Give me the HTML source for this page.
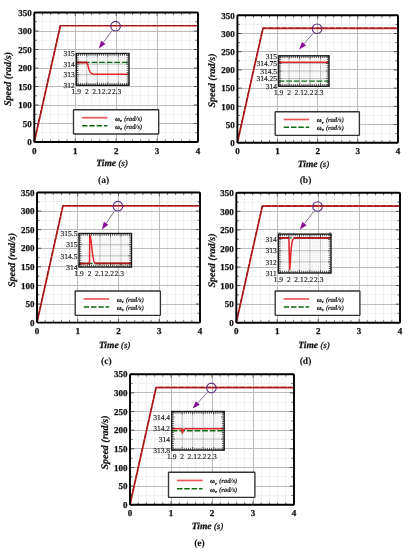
<!DOCTYPE html>
<html><head><meta charset="utf-8"><style>
html,body{margin:0;padding:0;background:#fff;}
body{width:411px;height:550px;overflow:hidden;}
svg{display:block;}
text{font-family:'Liberation Serif','Times New Roman',serif;text-rendering:geometricPrecision;}
</style></head><body>
<svg width="411" height="550" viewBox="0 0 411 550">
<rect width="411" height="550" fill="#fff"/>
<line x1="42.5" y1="12.5" x2="42.5" y2="142" stroke="#f1f1f1" stroke-width="1"/>
<line x1="50.5" y1="12.5" x2="50.5" y2="142" stroke="#f1f1f1" stroke-width="1"/>
<line x1="58.5" y1="12.5" x2="58.5" y2="142" stroke="#f1f1f1" stroke-width="1"/>
<line x1="67.5" y1="12.5" x2="67.5" y2="142" stroke="#f1f1f1" stroke-width="1"/>
<line x1="83.5" y1="12.5" x2="83.5" y2="142" stroke="#f1f1f1" stroke-width="1"/>
<line x1="91.5" y1="12.5" x2="91.5" y2="142" stroke="#f1f1f1" stroke-width="1"/>
<line x1="99.5" y1="12.5" x2="99.5" y2="142" stroke="#f1f1f1" stroke-width="1"/>
<line x1="107.5" y1="12.5" x2="107.5" y2="142" stroke="#f1f1f1" stroke-width="1"/>
<line x1="124.5" y1="12.5" x2="124.5" y2="142" stroke="#f1f1f1" stroke-width="1"/>
<line x1="132.5" y1="12.5" x2="132.5" y2="142" stroke="#f1f1f1" stroke-width="1"/>
<line x1="140.5" y1="12.5" x2="140.5" y2="142" stroke="#f1f1f1" stroke-width="1"/>
<line x1="148.5" y1="12.5" x2="148.5" y2="142" stroke="#f1f1f1" stroke-width="1"/>
<line x1="165.5" y1="12.5" x2="165.5" y2="142" stroke="#f1f1f1" stroke-width="1"/>
<line x1="173.5" y1="12.5" x2="173.5" y2="142" stroke="#f1f1f1" stroke-width="1"/>
<line x1="181.5" y1="12.5" x2="181.5" y2="142" stroke="#f1f1f1" stroke-width="1"/>
<line x1="189.5" y1="12.5" x2="189.5" y2="142" stroke="#f1f1f1" stroke-width="1"/>
<line x1="34.3" y1="132.5" x2="198" y2="132.5" stroke="#f1f1f1" stroke-width="1"/>
<line x1="34.3" y1="114.5" x2="198" y2="114.5" stroke="#f1f1f1" stroke-width="1"/>
<line x1="34.3" y1="95.5" x2="198" y2="95.5" stroke="#f1f1f1" stroke-width="1"/>
<line x1="34.3" y1="77.5" x2="198" y2="77.5" stroke="#f1f1f1" stroke-width="1"/>
<line x1="34.3" y1="58.5" x2="198" y2="58.5" stroke="#f1f1f1" stroke-width="1"/>
<line x1="34.3" y1="40.5" x2="198" y2="40.5" stroke="#f1f1f1" stroke-width="1"/>
<line x1="34.3" y1="21.5" x2="198" y2="21.5" stroke="#f1f1f1" stroke-width="1"/>
<line x1="75.5" y1="12.5" x2="75.5" y2="142" stroke="#bcbcbc" stroke-width="1"/>
<line x1="116.5" y1="12.5" x2="116.5" y2="142" stroke="#bcbcbc" stroke-width="1"/>
<line x1="157.5" y1="12.5" x2="157.5" y2="142" stroke="#bcbcbc" stroke-width="1"/>
<line x1="34.3" y1="123.5" x2="198" y2="123.5" stroke="#bcbcbc" stroke-width="1"/>
<line x1="34.3" y1="105.5" x2="198" y2="105.5" stroke="#bcbcbc" stroke-width="1"/>
<line x1="34.3" y1="86.5" x2="198" y2="86.5" stroke="#bcbcbc" stroke-width="1"/>
<line x1="34.3" y1="68.5" x2="198" y2="68.5" stroke="#bcbcbc" stroke-width="1"/>
<line x1="34.3" y1="49.5" x2="198" y2="49.5" stroke="#bcbcbc" stroke-width="1"/>
<line x1="34.3" y1="31.5" x2="198" y2="31.5" stroke="#bcbcbc" stroke-width="1"/>
<polyline points="34.3,142 60.41,25.76 198,25.76" fill="none" stroke="#cc2426" stroke-width="1.7" stroke-linejoin="round"/>
<polyline points="34.3,142 60.41,25.76 198,25.76" fill="none" stroke="#901616" stroke-width="1.1" stroke-dasharray="5.2 1.6" transform="translate(-0.2,-0.3)" stroke-linejoin="round"/>
<line x1="34.3" y1="142" x2="34.3" y2="138.4" stroke="#444" stroke-width="0.8"/>
<line x1="34.3" y1="12.5" x2="34.3" y2="16.1" stroke="#444" stroke-width="0.8"/>
<line x1="42.48" y1="142" x2="42.48" y2="139.6" stroke="#444" stroke-width="0.8"/>
<line x1="42.48" y1="12.5" x2="42.48" y2="14.9" stroke="#444" stroke-width="0.8"/>
<line x1="50.67" y1="142" x2="50.67" y2="139.6" stroke="#444" stroke-width="0.8"/>
<line x1="50.67" y1="12.5" x2="50.67" y2="14.9" stroke="#444" stroke-width="0.8"/>
<line x1="58.86" y1="142" x2="58.86" y2="139.6" stroke="#444" stroke-width="0.8"/>
<line x1="58.86" y1="12.5" x2="58.86" y2="14.9" stroke="#444" stroke-width="0.8"/>
<line x1="67.04" y1="142" x2="67.04" y2="139.6" stroke="#444" stroke-width="0.8"/>
<line x1="67.04" y1="12.5" x2="67.04" y2="14.9" stroke="#444" stroke-width="0.8"/>
<line x1="75.22" y1="142" x2="75.22" y2="138.4" stroke="#444" stroke-width="0.8"/>
<line x1="75.22" y1="12.5" x2="75.22" y2="16.1" stroke="#444" stroke-width="0.8"/>
<line x1="83.41" y1="142" x2="83.41" y2="139.6" stroke="#444" stroke-width="0.8"/>
<line x1="83.41" y1="12.5" x2="83.41" y2="14.9" stroke="#444" stroke-width="0.8"/>
<line x1="91.59" y1="142" x2="91.59" y2="139.6" stroke="#444" stroke-width="0.8"/>
<line x1="91.59" y1="12.5" x2="91.59" y2="14.9" stroke="#444" stroke-width="0.8"/>
<line x1="99.78" y1="142" x2="99.78" y2="139.6" stroke="#444" stroke-width="0.8"/>
<line x1="99.78" y1="12.5" x2="99.78" y2="14.9" stroke="#444" stroke-width="0.8"/>
<line x1="107.96" y1="142" x2="107.96" y2="139.6" stroke="#444" stroke-width="0.8"/>
<line x1="107.96" y1="12.5" x2="107.96" y2="14.9" stroke="#444" stroke-width="0.8"/>
<line x1="116.15" y1="142" x2="116.15" y2="138.4" stroke="#444" stroke-width="0.8"/>
<line x1="116.15" y1="12.5" x2="116.15" y2="16.1" stroke="#444" stroke-width="0.8"/>
<line x1="124.33" y1="142" x2="124.33" y2="139.6" stroke="#444" stroke-width="0.8"/>
<line x1="124.33" y1="12.5" x2="124.33" y2="14.9" stroke="#444" stroke-width="0.8"/>
<line x1="132.52" y1="142" x2="132.52" y2="139.6" stroke="#444" stroke-width="0.8"/>
<line x1="132.52" y1="12.5" x2="132.52" y2="14.9" stroke="#444" stroke-width="0.8"/>
<line x1="140.7" y1="142" x2="140.7" y2="139.6" stroke="#444" stroke-width="0.8"/>
<line x1="140.7" y1="12.5" x2="140.7" y2="14.9" stroke="#444" stroke-width="0.8"/>
<line x1="148.89" y1="142" x2="148.89" y2="139.6" stroke="#444" stroke-width="0.8"/>
<line x1="148.89" y1="12.5" x2="148.89" y2="14.9" stroke="#444" stroke-width="0.8"/>
<line x1="157.07" y1="142" x2="157.07" y2="138.4" stroke="#444" stroke-width="0.8"/>
<line x1="157.07" y1="12.5" x2="157.07" y2="16.1" stroke="#444" stroke-width="0.8"/>
<line x1="165.26" y1="142" x2="165.26" y2="139.6" stroke="#444" stroke-width="0.8"/>
<line x1="165.26" y1="12.5" x2="165.26" y2="14.9" stroke="#444" stroke-width="0.8"/>
<line x1="173.44" y1="142" x2="173.44" y2="139.6" stroke="#444" stroke-width="0.8"/>
<line x1="173.44" y1="12.5" x2="173.44" y2="14.9" stroke="#444" stroke-width="0.8"/>
<line x1="181.63" y1="142" x2="181.63" y2="139.6" stroke="#444" stroke-width="0.8"/>
<line x1="181.63" y1="12.5" x2="181.63" y2="14.9" stroke="#444" stroke-width="0.8"/>
<line x1="189.81" y1="142" x2="189.81" y2="139.6" stroke="#444" stroke-width="0.8"/>
<line x1="189.81" y1="12.5" x2="189.81" y2="14.9" stroke="#444" stroke-width="0.8"/>
<line x1="198" y1="142" x2="198" y2="138.4" stroke="#444" stroke-width="0.8"/>
<line x1="198" y1="12.5" x2="198" y2="16.1" stroke="#444" stroke-width="0.8"/>
<line x1="34.3" y1="142" x2="38.5" y2="142" stroke="#444" stroke-width="0.9"/>
<line x1="198" y1="142" x2="193.8" y2="142" stroke="#444" stroke-width="0.9"/>
<line x1="34.3" y1="132.75" x2="36.7" y2="132.75" stroke="#444" stroke-width="0.9"/>
<line x1="198" y1="132.75" x2="195.6" y2="132.75" stroke="#444" stroke-width="0.9"/>
<line x1="34.3" y1="123.5" x2="38.5" y2="123.5" stroke="#444" stroke-width="0.9"/>
<line x1="198" y1="123.5" x2="193.8" y2="123.5" stroke="#444" stroke-width="0.9"/>
<line x1="34.3" y1="114.25" x2="36.7" y2="114.25" stroke="#444" stroke-width="0.9"/>
<line x1="198" y1="114.25" x2="195.6" y2="114.25" stroke="#444" stroke-width="0.9"/>
<line x1="34.3" y1="105" x2="38.5" y2="105" stroke="#444" stroke-width="0.9"/>
<line x1="198" y1="105" x2="193.8" y2="105" stroke="#444" stroke-width="0.9"/>
<line x1="34.3" y1="95.75" x2="36.7" y2="95.75" stroke="#444" stroke-width="0.9"/>
<line x1="198" y1="95.75" x2="195.6" y2="95.75" stroke="#444" stroke-width="0.9"/>
<line x1="34.3" y1="86.5" x2="38.5" y2="86.5" stroke="#444" stroke-width="0.9"/>
<line x1="198" y1="86.5" x2="193.8" y2="86.5" stroke="#444" stroke-width="0.9"/>
<line x1="34.3" y1="77.25" x2="36.7" y2="77.25" stroke="#444" stroke-width="0.9"/>
<line x1="198" y1="77.25" x2="195.6" y2="77.25" stroke="#444" stroke-width="0.9"/>
<line x1="34.3" y1="68" x2="38.5" y2="68" stroke="#444" stroke-width="0.9"/>
<line x1="198" y1="68" x2="193.8" y2="68" stroke="#444" stroke-width="0.9"/>
<line x1="34.3" y1="58.75" x2="36.7" y2="58.75" stroke="#444" stroke-width="0.9"/>
<line x1="198" y1="58.75" x2="195.6" y2="58.75" stroke="#444" stroke-width="0.9"/>
<line x1="34.3" y1="49.5" x2="38.5" y2="49.5" stroke="#444" stroke-width="0.9"/>
<line x1="198" y1="49.5" x2="193.8" y2="49.5" stroke="#444" stroke-width="0.9"/>
<line x1="34.3" y1="40.25" x2="36.7" y2="40.25" stroke="#444" stroke-width="0.9"/>
<line x1="198" y1="40.25" x2="195.6" y2="40.25" stroke="#444" stroke-width="0.9"/>
<line x1="34.3" y1="31" x2="38.5" y2="31" stroke="#444" stroke-width="0.9"/>
<line x1="198" y1="31" x2="193.8" y2="31" stroke="#444" stroke-width="0.9"/>
<line x1="34.3" y1="21.75" x2="36.7" y2="21.75" stroke="#444" stroke-width="0.9"/>
<line x1="198" y1="21.75" x2="195.6" y2="21.75" stroke="#444" stroke-width="0.9"/>
<line x1="34.3" y1="12.5" x2="38.5" y2="12.5" stroke="#444" stroke-width="0.9"/>
<line x1="198" y1="12.5" x2="193.8" y2="12.5" stroke="#444" stroke-width="0.9"/>
<rect x="34.3" y="12.5" width="163.7" height="129.5" fill="none" stroke="#000" stroke-width="1.9" rx="0.8"/>
<text x="31.7" y="145.2" font-size="9" text-anchor="end" font-weight="bold" font-style="normal" fill="#111" stroke="#111" stroke-width="0.25">0</text>
<text x="31.7" y="126.7" font-size="9" text-anchor="end" font-weight="bold" font-style="normal" fill="#111" stroke="#111" stroke-width="0.25">50</text>
<text x="31.7" y="108.2" font-size="9" text-anchor="end" font-weight="bold" font-style="normal" fill="#111" stroke="#111" stroke-width="0.25">100</text>
<text x="31.7" y="89.7" font-size="9" text-anchor="end" font-weight="bold" font-style="normal" fill="#111" stroke="#111" stroke-width="0.25">150</text>
<text x="31.7" y="71.2" font-size="9" text-anchor="end" font-weight="bold" font-style="normal" fill="#111" stroke="#111" stroke-width="0.25">200</text>
<text x="31.7" y="52.7" font-size="9" text-anchor="end" font-weight="bold" font-style="normal" fill="#111" stroke="#111" stroke-width="0.25">250</text>
<text x="31.7" y="34.2" font-size="9" text-anchor="end" font-weight="bold" font-style="normal" fill="#111" stroke="#111" stroke-width="0.25">300</text>
<text x="31.7" y="15.7" font-size="9" text-anchor="end" font-weight="bold" font-style="normal" fill="#111" stroke="#111" stroke-width="0.25">350</text>
<text x="34.3" y="153.5" font-size="9" text-anchor="middle" font-weight="bold" font-style="normal" fill="#111" stroke="#111" stroke-width="0.25">0</text>
<text x="75.22" y="153.5" font-size="9" text-anchor="middle" font-weight="bold" font-style="normal" fill="#111" stroke="#111" stroke-width="0.25">1</text>
<text x="116.15" y="153.5" font-size="9" text-anchor="middle" font-weight="bold" font-style="normal" fill="#111" stroke="#111" stroke-width="0.25">2</text>
<text x="157.07" y="153.5" font-size="9" text-anchor="middle" font-weight="bold" font-style="normal" fill="#111" stroke="#111" stroke-width="0.25">3</text>
<text x="198" y="153.5" font-size="9" text-anchor="middle" font-weight="bold" font-style="normal" fill="#111" stroke="#111" stroke-width="0.25">4</text>
<text x="112" y="166" font-size="9.5" text-anchor="middle" font-weight="bold" font-style="italic" fill="#111" stroke="#111" stroke-width="0.25">Time <tspan font-size="8.8" font-weight="normal" stroke="#111" stroke-width="0.3">(s)</tspan></text>
<text transform="translate(11.4,79) rotate(-90)" font-size="10" text-anchor="middle" font-weight="bold" font-style="italic" fill="#111" stroke="#111" stroke-width="0.2">Speed <tspan>(rad/s)</tspan></text>
<text x="103.6" y="182.7" font-size="9.6" text-anchor="middle" font-weight="bold" font-style="normal" fill="#111" stroke="#111" stroke-width="0.1">(a)</text>
<circle cx="115.55" cy="26.16" r="4.8" fill="none" stroke="#5b2d7d" stroke-width="1.1"/>
<line x1="111.82" y1="31.11" x2="103.31" y2="42.41" stroke="#6a4a7a" stroke-width="0.8"/>
<polygon points="98.8,48.4 101.16,40.78 105.47,44.03" fill="#8a0c98"/>
<rect x="76.3" y="53.5" width="52.7" height="31.8" fill="#fff"/>
<line x1="78.4" y1="53.5" x2="78.4" y2="85.3" stroke="#d8d8d8" stroke-width="0.5" stroke-dasharray="0.8 0.8"/>
<line x1="80.5" y1="53.5" x2="80.5" y2="85.3" stroke="#d8d8d8" stroke-width="0.5" stroke-dasharray="0.8 0.8"/>
<line x1="82.6" y1="53.5" x2="82.6" y2="85.3" stroke="#d8d8d8" stroke-width="0.5" stroke-dasharray="0.8 0.8"/>
<line x1="84.7" y1="53.5" x2="84.7" y2="85.3" stroke="#d8d8d8" stroke-width="0.5" stroke-dasharray="0.8 0.8"/>
<line x1="88.9" y1="53.5" x2="88.9" y2="85.3" stroke="#d8d8d8" stroke-width="0.5" stroke-dasharray="0.8 0.8"/>
<line x1="91" y1="53.5" x2="91" y2="85.3" stroke="#d8d8d8" stroke-width="0.5" stroke-dasharray="0.8 0.8"/>
<line x1="93.1" y1="53.5" x2="93.1" y2="85.3" stroke="#d8d8d8" stroke-width="0.5" stroke-dasharray="0.8 0.8"/>
<line x1="95.2" y1="53.5" x2="95.2" y2="85.3" stroke="#d8d8d8" stroke-width="0.5" stroke-dasharray="0.8 0.8"/>
<line x1="99.4" y1="53.5" x2="99.4" y2="85.3" stroke="#d8d8d8" stroke-width="0.5" stroke-dasharray="0.8 0.8"/>
<line x1="101.5" y1="53.5" x2="101.5" y2="85.3" stroke="#d8d8d8" stroke-width="0.5" stroke-dasharray="0.8 0.8"/>
<line x1="103.6" y1="53.5" x2="103.6" y2="85.3" stroke="#d8d8d8" stroke-width="0.5" stroke-dasharray="0.8 0.8"/>
<line x1="105.7" y1="53.5" x2="105.7" y2="85.3" stroke="#d8d8d8" stroke-width="0.5" stroke-dasharray="0.8 0.8"/>
<line x1="109.9" y1="53.5" x2="109.9" y2="85.3" stroke="#d8d8d8" stroke-width="0.5" stroke-dasharray="0.8 0.8"/>
<line x1="112" y1="53.5" x2="112" y2="85.3" stroke="#d8d8d8" stroke-width="0.5" stroke-dasharray="0.8 0.8"/>
<line x1="114.1" y1="53.5" x2="114.1" y2="85.3" stroke="#d8d8d8" stroke-width="0.5" stroke-dasharray="0.8 0.8"/>
<line x1="116.2" y1="53.5" x2="116.2" y2="85.3" stroke="#d8d8d8" stroke-width="0.5" stroke-dasharray="0.8 0.8"/>
<line x1="120.4" y1="53.5" x2="120.4" y2="85.3" stroke="#d8d8d8" stroke-width="0.5" stroke-dasharray="0.8 0.8"/>
<line x1="122.5" y1="53.5" x2="122.5" y2="85.3" stroke="#d8d8d8" stroke-width="0.5" stroke-dasharray="0.8 0.8"/>
<line x1="124.6" y1="53.5" x2="124.6" y2="85.3" stroke="#d8d8d8" stroke-width="0.5" stroke-dasharray="0.8 0.8"/>
<line x1="126.7" y1="53.5" x2="126.7" y2="85.3" stroke="#d8d8d8" stroke-width="0.5" stroke-dasharray="0.8 0.8"/>
<line x1="76.3" y1="83.18" x2="129" y2="83.18" stroke="#d8d8d8" stroke-width="0.5" stroke-dasharray="0.8 0.8"/>
<line x1="76.3" y1="81.06" x2="129" y2="81.06" stroke="#d8d8d8" stroke-width="0.5" stroke-dasharray="0.8 0.8"/>
<line x1="76.3" y1="78.94" x2="129" y2="78.94" stroke="#d8d8d8" stroke-width="0.5" stroke-dasharray="0.8 0.8"/>
<line x1="76.3" y1="76.82" x2="129" y2="76.82" stroke="#d8d8d8" stroke-width="0.5" stroke-dasharray="0.8 0.8"/>
<line x1="76.3" y1="74.7" x2="129" y2="74.7" stroke="#d8d8d8" stroke-width="0.5" stroke-dasharray="0.8 0.8"/>
<line x1="76.3" y1="72.58" x2="129" y2="72.58" stroke="#d8d8d8" stroke-width="0.5" stroke-dasharray="0.8 0.8"/>
<line x1="76.3" y1="70.46" x2="129" y2="70.46" stroke="#d8d8d8" stroke-width="0.5" stroke-dasharray="0.8 0.8"/>
<line x1="76.3" y1="68.34" x2="129" y2="68.34" stroke="#d8d8d8" stroke-width="0.5" stroke-dasharray="0.8 0.8"/>
<line x1="76.3" y1="66.22" x2="129" y2="66.22" stroke="#d8d8d8" stroke-width="0.5" stroke-dasharray="0.8 0.8"/>
<line x1="76.3" y1="64.1" x2="129" y2="64.1" stroke="#d8d8d8" stroke-width="0.5" stroke-dasharray="0.8 0.8"/>
<line x1="76.3" y1="61.98" x2="129" y2="61.98" stroke="#d8d8d8" stroke-width="0.5" stroke-dasharray="0.8 0.8"/>
<line x1="76.3" y1="59.86" x2="129" y2="59.86" stroke="#d8d8d8" stroke-width="0.5" stroke-dasharray="0.8 0.8"/>
<line x1="76.3" y1="57.74" x2="129" y2="57.74" stroke="#d8d8d8" stroke-width="0.5" stroke-dasharray="0.8 0.8"/>
<line x1="76.3" y1="55.62" x2="129" y2="55.62" stroke="#d8d8d8" stroke-width="0.5" stroke-dasharray="0.8 0.8"/>
<line x1="86.8" y1="53.5" x2="86.8" y2="85.3" stroke="#9a9a9a" stroke-width="0.6"/>
<line x1="97.3" y1="53.5" x2="97.3" y2="85.3" stroke="#9a9a9a" stroke-width="0.6"/>
<line x1="107.8" y1="53.5" x2="107.8" y2="85.3" stroke="#9a9a9a" stroke-width="0.6"/>
<line x1="118.3" y1="53.5" x2="118.3" y2="85.3" stroke="#9a9a9a" stroke-width="0.6"/>
<line x1="76.3" y1="74.7" x2="129" y2="74.7" stroke="#9a9a9a" stroke-width="0.6"/>
<line x1="76.3" y1="64.1" x2="129" y2="64.1" stroke="#9a9a9a" stroke-width="0.6"/>
<clipPath id="c167"><rect x="76.3" y="53.5" width="52.7" height="31.8"/></clipPath><g clip-path="url(#c167)">
<line x1="76.3" y1="62.4" x2="129" y2="62.4" stroke="#0e6c14" stroke-width="1.4" stroke-dasharray="5.8 1.8"/>
<polyline points="71.05,62.4 86.8,62.4 87.01,62.58 87.22,63.03 87.43,63.65 87.64,64.38 87.85,65.17 88.06,65.97 88.27,66.76 88.48,67.52 88.69,68.23 88.9,68.9 89.11,69.52 89.32,70.08 89.53,70.59 89.74,71.05 89.95,71.46 90.16,71.83 90.37,72.15 90.58,72.44 90.79,72.7 91,72.92 91.21,73.11 91.42,73.29 91.63,73.43 91.84,73.56 92.05,73.68 92.26,73.77 92.47,73.86 92.68,73.93 92.89,74 93.1,74.05 93.31,74.1 93.52,74.14 93.73,74.17 93.94,74.2 94.15,74.23 94.36,74.25 94.57,74.27 94.78,74.29 94.99,74.3 95.2,74.31 149.8,74.38" fill="none" stroke="#e3242b" stroke-width="1.5" stroke-linejoin="round"/>
<line x1="71.05" y1="62.4" x2="86.8" y2="62.4" stroke="#a8141e" stroke-width="1.5"/>
</g>
<line x1="76.3" y1="53.5" x2="76.3" y2="56.5" stroke="#111" stroke-width="0.7"/>
<line x1="76.3" y1="85.3" x2="76.3" y2="82.3" stroke="#111" stroke-width="0.7"/>
<line x1="78.4" y1="53.5" x2="78.4" y2="55.7" stroke="#111" stroke-width="0.7"/>
<line x1="78.4" y1="85.3" x2="78.4" y2="83.1" stroke="#111" stroke-width="0.7"/>
<line x1="80.5" y1="53.5" x2="80.5" y2="55.7" stroke="#111" stroke-width="0.7"/>
<line x1="80.5" y1="85.3" x2="80.5" y2="83.1" stroke="#111" stroke-width="0.7"/>
<line x1="82.6" y1="53.5" x2="82.6" y2="55.7" stroke="#111" stroke-width="0.7"/>
<line x1="82.6" y1="85.3" x2="82.6" y2="83.1" stroke="#111" stroke-width="0.7"/>
<line x1="84.7" y1="53.5" x2="84.7" y2="55.7" stroke="#111" stroke-width="0.7"/>
<line x1="84.7" y1="85.3" x2="84.7" y2="83.1" stroke="#111" stroke-width="0.7"/>
<line x1="86.8" y1="53.5" x2="86.8" y2="56.5" stroke="#111" stroke-width="0.7"/>
<line x1="86.8" y1="85.3" x2="86.8" y2="82.3" stroke="#111" stroke-width="0.7"/>
<line x1="88.9" y1="53.5" x2="88.9" y2="55.7" stroke="#111" stroke-width="0.7"/>
<line x1="88.9" y1="85.3" x2="88.9" y2="83.1" stroke="#111" stroke-width="0.7"/>
<line x1="91" y1="53.5" x2="91" y2="55.7" stroke="#111" stroke-width="0.7"/>
<line x1="91" y1="85.3" x2="91" y2="83.1" stroke="#111" stroke-width="0.7"/>
<line x1="93.1" y1="53.5" x2="93.1" y2="55.7" stroke="#111" stroke-width="0.7"/>
<line x1="93.1" y1="85.3" x2="93.1" y2="83.1" stroke="#111" stroke-width="0.7"/>
<line x1="95.2" y1="53.5" x2="95.2" y2="55.7" stroke="#111" stroke-width="0.7"/>
<line x1="95.2" y1="85.3" x2="95.2" y2="83.1" stroke="#111" stroke-width="0.7"/>
<line x1="97.3" y1="53.5" x2="97.3" y2="56.5" stroke="#111" stroke-width="0.7"/>
<line x1="97.3" y1="85.3" x2="97.3" y2="82.3" stroke="#111" stroke-width="0.7"/>
<line x1="99.4" y1="53.5" x2="99.4" y2="55.7" stroke="#111" stroke-width="0.7"/>
<line x1="99.4" y1="85.3" x2="99.4" y2="83.1" stroke="#111" stroke-width="0.7"/>
<line x1="101.5" y1="53.5" x2="101.5" y2="55.7" stroke="#111" stroke-width="0.7"/>
<line x1="101.5" y1="85.3" x2="101.5" y2="83.1" stroke="#111" stroke-width="0.7"/>
<line x1="103.6" y1="53.5" x2="103.6" y2="55.7" stroke="#111" stroke-width="0.7"/>
<line x1="103.6" y1="85.3" x2="103.6" y2="83.1" stroke="#111" stroke-width="0.7"/>
<line x1="105.7" y1="53.5" x2="105.7" y2="55.7" stroke="#111" stroke-width="0.7"/>
<line x1="105.7" y1="85.3" x2="105.7" y2="83.1" stroke="#111" stroke-width="0.7"/>
<line x1="107.8" y1="53.5" x2="107.8" y2="56.5" stroke="#111" stroke-width="0.7"/>
<line x1="107.8" y1="85.3" x2="107.8" y2="82.3" stroke="#111" stroke-width="0.7"/>
<line x1="109.9" y1="53.5" x2="109.9" y2="55.7" stroke="#111" stroke-width="0.7"/>
<line x1="109.9" y1="85.3" x2="109.9" y2="83.1" stroke="#111" stroke-width="0.7"/>
<line x1="112" y1="53.5" x2="112" y2="55.7" stroke="#111" stroke-width="0.7"/>
<line x1="112" y1="85.3" x2="112" y2="83.1" stroke="#111" stroke-width="0.7"/>
<line x1="114.1" y1="53.5" x2="114.1" y2="55.7" stroke="#111" stroke-width="0.7"/>
<line x1="114.1" y1="85.3" x2="114.1" y2="83.1" stroke="#111" stroke-width="0.7"/>
<line x1="116.2" y1="53.5" x2="116.2" y2="55.7" stroke="#111" stroke-width="0.7"/>
<line x1="116.2" y1="85.3" x2="116.2" y2="83.1" stroke="#111" stroke-width="0.7"/>
<line x1="118.3" y1="53.5" x2="118.3" y2="56.5" stroke="#111" stroke-width="0.7"/>
<line x1="118.3" y1="85.3" x2="118.3" y2="82.3" stroke="#111" stroke-width="0.7"/>
<line x1="120.4" y1="53.5" x2="120.4" y2="55.7" stroke="#111" stroke-width="0.7"/>
<line x1="120.4" y1="85.3" x2="120.4" y2="83.1" stroke="#111" stroke-width="0.7"/>
<line x1="122.5" y1="53.5" x2="122.5" y2="55.7" stroke="#111" stroke-width="0.7"/>
<line x1="122.5" y1="85.3" x2="122.5" y2="83.1" stroke="#111" stroke-width="0.7"/>
<line x1="124.6" y1="53.5" x2="124.6" y2="55.7" stroke="#111" stroke-width="0.7"/>
<line x1="124.6" y1="85.3" x2="124.6" y2="83.1" stroke="#111" stroke-width="0.7"/>
<line x1="126.7" y1="53.5" x2="126.7" y2="55.7" stroke="#111" stroke-width="0.7"/>
<line x1="126.7" y1="85.3" x2="126.7" y2="83.1" stroke="#111" stroke-width="0.7"/>
<line x1="128.8" y1="53.5" x2="128.8" y2="56.5" stroke="#111" stroke-width="0.7"/>
<line x1="128.8" y1="85.3" x2="128.8" y2="82.3" stroke="#111" stroke-width="0.7"/>
<line x1="76.3" y1="85.3" x2="79.3" y2="85.3" stroke="#111" stroke-width="0.7"/>
<line x1="129" y1="85.3" x2="126" y2="85.3" stroke="#111" stroke-width="0.7"/>
<line x1="76.3" y1="83.18" x2="78.5" y2="83.18" stroke="#111" stroke-width="0.7"/>
<line x1="129" y1="83.18" x2="126.8" y2="83.18" stroke="#111" stroke-width="0.7"/>
<line x1="76.3" y1="81.06" x2="78.5" y2="81.06" stroke="#111" stroke-width="0.7"/>
<line x1="129" y1="81.06" x2="126.8" y2="81.06" stroke="#111" stroke-width="0.7"/>
<line x1="76.3" y1="78.94" x2="78.5" y2="78.94" stroke="#111" stroke-width="0.7"/>
<line x1="129" y1="78.94" x2="126.8" y2="78.94" stroke="#111" stroke-width="0.7"/>
<line x1="76.3" y1="76.82" x2="78.5" y2="76.82" stroke="#111" stroke-width="0.7"/>
<line x1="129" y1="76.82" x2="126.8" y2="76.82" stroke="#111" stroke-width="0.7"/>
<line x1="76.3" y1="74.7" x2="79.3" y2="74.7" stroke="#111" stroke-width="0.7"/>
<line x1="129" y1="74.7" x2="126" y2="74.7" stroke="#111" stroke-width="0.7"/>
<line x1="76.3" y1="72.58" x2="78.5" y2="72.58" stroke="#111" stroke-width="0.7"/>
<line x1="129" y1="72.58" x2="126.8" y2="72.58" stroke="#111" stroke-width="0.7"/>
<line x1="76.3" y1="70.46" x2="78.5" y2="70.46" stroke="#111" stroke-width="0.7"/>
<line x1="129" y1="70.46" x2="126.8" y2="70.46" stroke="#111" stroke-width="0.7"/>
<line x1="76.3" y1="68.34" x2="78.5" y2="68.34" stroke="#111" stroke-width="0.7"/>
<line x1="129" y1="68.34" x2="126.8" y2="68.34" stroke="#111" stroke-width="0.7"/>
<line x1="76.3" y1="66.22" x2="78.5" y2="66.22" stroke="#111" stroke-width="0.7"/>
<line x1="129" y1="66.22" x2="126.8" y2="66.22" stroke="#111" stroke-width="0.7"/>
<line x1="76.3" y1="64.1" x2="79.3" y2="64.1" stroke="#111" stroke-width="0.7"/>
<line x1="129" y1="64.1" x2="126" y2="64.1" stroke="#111" stroke-width="0.7"/>
<line x1="76.3" y1="61.98" x2="78.5" y2="61.98" stroke="#111" stroke-width="0.7"/>
<line x1="129" y1="61.98" x2="126.8" y2="61.98" stroke="#111" stroke-width="0.7"/>
<line x1="76.3" y1="59.86" x2="78.5" y2="59.86" stroke="#111" stroke-width="0.7"/>
<line x1="129" y1="59.86" x2="126.8" y2="59.86" stroke="#111" stroke-width="0.7"/>
<line x1="76.3" y1="57.74" x2="78.5" y2="57.74" stroke="#111" stroke-width="0.7"/>
<line x1="129" y1="57.74" x2="126.8" y2="57.74" stroke="#111" stroke-width="0.7"/>
<line x1="76.3" y1="55.62" x2="78.5" y2="55.62" stroke="#111" stroke-width="0.7"/>
<line x1="129" y1="55.62" x2="126.8" y2="55.62" stroke="#111" stroke-width="0.7"/>
<line x1="76.3" y1="53.5" x2="79.3" y2="53.5" stroke="#111" stroke-width="0.7"/>
<line x1="129" y1="53.5" x2="126" y2="53.5" stroke="#111" stroke-width="0.7"/>
<rect x="76.3" y="53.5" width="52.7" height="31.8" fill="none" stroke="#1a1a1a" stroke-width="1.4"/>
<text x="74.7" y="88" font-size="7.5" text-anchor="end" font-weight="normal" font-style="normal" fill="#111" stroke="#222" stroke-width="0.15">312</text>
<text x="74.7" y="77.4" font-size="7.5" text-anchor="end" font-weight="normal" font-style="normal" fill="#111" stroke="#222" stroke-width="0.15">313</text>
<text x="74.7" y="66.8" font-size="7.5" text-anchor="end" font-weight="normal" font-style="normal" fill="#111" stroke="#222" stroke-width="0.15">314</text>
<text x="74.7" y="56.2" font-size="7.5" text-anchor="end" font-weight="normal" font-style="normal" fill="#111" stroke="#222" stroke-width="0.15">315</text>
<text x="76.3" y="94" font-size="7.5" text-anchor="middle" font-weight="normal" font-style="normal" fill="#111" stroke="#222" stroke-width="0.15">1.9</text>
<text x="86.8" y="94" font-size="7.5" text-anchor="middle" font-weight="normal" font-style="normal" fill="#111" stroke="#222" stroke-width="0.15">2</text>
<text x="96.9" y="94" font-size="7.5" text-anchor="middle" font-weight="normal" font-style="normal" fill="#111" stroke="#222" stroke-width="0.15">2.1</text>
<text x="106.5" y="94" font-size="7.5" text-anchor="middle" font-weight="normal" font-style="normal" fill="#111" stroke="#222" stroke-width="0.15">2.2</text>
<text x="116.6" y="94" font-size="7.5" text-anchor="middle" font-weight="normal" font-style="normal" fill="#111" stroke="#222" stroke-width="0.15">2.3</text>
<rect x="73.5" y="109.7" width="85.2" height="24.3" fill="#fff" stroke="#333" stroke-width="1.35" rx="0.6"/>
<line x1="82" y1="117.72" x2="107.5" y2="117.72" stroke="#e8585e" stroke-width="1.7"/>
<line x1="82" y1="125.74" x2="107.5" y2="125.74" stroke="#0e6c14" stroke-width="1.5" stroke-dasharray="5.5 1.8"/>
<text x="115" y="120.72" font-size="6.8" font-weight="bold" fill="#111" stroke="#111" stroke-width="0.2">&#969;<tspan font-size="4.4" dy="1.2">r</tspan></text>
<text x="124" y="120.72" font-size="6.7" font-weight="bold" font-style="italic" fill="#222" stroke="#222" stroke-width="0.12">(rad/s)</text>
<text x="115" y="128.74" font-size="6.8" font-weight="bold" fill="#111" stroke="#111" stroke-width="0.2">&#969;<tspan font-size="4.4" dy="1.2">e</tspan></text>
<text x="124" y="128.74" font-size="6.7" font-weight="bold" font-style="italic" fill="#222" stroke="#222" stroke-width="0.12">(rad/s)</text>
<line x1="245.5" y1="15.3" x2="245.5" y2="142.7" stroke="#f1f1f1" stroke-width="1"/>
<line x1="253.5" y1="15.3" x2="253.5" y2="142.7" stroke="#f1f1f1" stroke-width="1"/>
<line x1="261.5" y1="15.3" x2="261.5" y2="142.7" stroke="#f1f1f1" stroke-width="1"/>
<line x1="269.5" y1="15.3" x2="269.5" y2="142.7" stroke="#f1f1f1" stroke-width="1"/>
<line x1="285.5" y1="15.3" x2="285.5" y2="142.7" stroke="#f1f1f1" stroke-width="1"/>
<line x1="293.5" y1="15.3" x2="293.5" y2="142.7" stroke="#f1f1f1" stroke-width="1"/>
<line x1="301.5" y1="15.3" x2="301.5" y2="142.7" stroke="#f1f1f1" stroke-width="1"/>
<line x1="309.5" y1="15.3" x2="309.5" y2="142.7" stroke="#f1f1f1" stroke-width="1"/>
<line x1="325.5" y1="15.3" x2="325.5" y2="142.7" stroke="#f1f1f1" stroke-width="1"/>
<line x1="333.5" y1="15.3" x2="333.5" y2="142.7" stroke="#f1f1f1" stroke-width="1"/>
<line x1="341.5" y1="15.3" x2="341.5" y2="142.7" stroke="#f1f1f1" stroke-width="1"/>
<line x1="349.5" y1="15.3" x2="349.5" y2="142.7" stroke="#f1f1f1" stroke-width="1"/>
<line x1="365.5" y1="15.3" x2="365.5" y2="142.7" stroke="#f1f1f1" stroke-width="1"/>
<line x1="373.5" y1="15.3" x2="373.5" y2="142.7" stroke="#f1f1f1" stroke-width="1"/>
<line x1="381.5" y1="15.3" x2="381.5" y2="142.7" stroke="#f1f1f1" stroke-width="1"/>
<line x1="389.5" y1="15.3" x2="389.5" y2="142.7" stroke="#f1f1f1" stroke-width="1"/>
<line x1="237.4" y1="133.5" x2="398" y2="133.5" stroke="#f1f1f1" stroke-width="1"/>
<line x1="237.4" y1="115.5" x2="398" y2="115.5" stroke="#f1f1f1" stroke-width="1"/>
<line x1="237.4" y1="97.5" x2="398" y2="97.5" stroke="#f1f1f1" stroke-width="1"/>
<line x1="237.4" y1="78.5" x2="398" y2="78.5" stroke="#f1f1f1" stroke-width="1"/>
<line x1="237.4" y1="60.5" x2="398" y2="60.5" stroke="#f1f1f1" stroke-width="1"/>
<line x1="237.4" y1="42.5" x2="398" y2="42.5" stroke="#f1f1f1" stroke-width="1"/>
<line x1="237.4" y1="24.5" x2="398" y2="24.5" stroke="#f1f1f1" stroke-width="1"/>
<line x1="277.5" y1="15.3" x2="277.5" y2="142.7" stroke="#bcbcbc" stroke-width="1"/>
<line x1="317.5" y1="15.3" x2="317.5" y2="142.7" stroke="#bcbcbc" stroke-width="1"/>
<line x1="357.5" y1="15.3" x2="357.5" y2="142.7" stroke="#bcbcbc" stroke-width="1"/>
<line x1="237.4" y1="124.5" x2="398" y2="124.5" stroke="#bcbcbc" stroke-width="1"/>
<line x1="237.4" y1="106.5" x2="398" y2="106.5" stroke="#bcbcbc" stroke-width="1"/>
<line x1="237.4" y1="88.5" x2="398" y2="88.5" stroke="#bcbcbc" stroke-width="1"/>
<line x1="237.4" y1="69.5" x2="398" y2="69.5" stroke="#bcbcbc" stroke-width="1"/>
<line x1="237.4" y1="51.5" x2="398" y2="51.5" stroke="#bcbcbc" stroke-width="1"/>
<line x1="237.4" y1="33.5" x2="398" y2="33.5" stroke="#bcbcbc" stroke-width="1"/>
<polyline points="237.4,142.7 263.02,28.35 398,28.35" fill="none" stroke="#cc2426" stroke-width="1.7" stroke-linejoin="round"/>
<polyline points="237.4,142.7 263.02,28.35 398,28.35" fill="none" stroke="#901616" stroke-width="1.1" stroke-dasharray="5.2 1.6" transform="translate(-0.2,-0.3)" stroke-linejoin="round"/>
<line x1="237.4" y1="142.7" x2="237.4" y2="139.1" stroke="#444" stroke-width="0.8"/>
<line x1="237.4" y1="15.3" x2="237.4" y2="18.9" stroke="#444" stroke-width="0.8"/>
<line x1="245.43" y1="142.7" x2="245.43" y2="140.3" stroke="#444" stroke-width="0.8"/>
<line x1="245.43" y1="15.3" x2="245.43" y2="17.7" stroke="#444" stroke-width="0.8"/>
<line x1="253.46" y1="142.7" x2="253.46" y2="140.3" stroke="#444" stroke-width="0.8"/>
<line x1="253.46" y1="15.3" x2="253.46" y2="17.7" stroke="#444" stroke-width="0.8"/>
<line x1="261.49" y1="142.7" x2="261.49" y2="140.3" stroke="#444" stroke-width="0.8"/>
<line x1="261.49" y1="15.3" x2="261.49" y2="17.7" stroke="#444" stroke-width="0.8"/>
<line x1="269.52" y1="142.7" x2="269.52" y2="140.3" stroke="#444" stroke-width="0.8"/>
<line x1="269.52" y1="15.3" x2="269.52" y2="17.7" stroke="#444" stroke-width="0.8"/>
<line x1="277.55" y1="142.7" x2="277.55" y2="139.1" stroke="#444" stroke-width="0.8"/>
<line x1="277.55" y1="15.3" x2="277.55" y2="18.9" stroke="#444" stroke-width="0.8"/>
<line x1="285.58" y1="142.7" x2="285.58" y2="140.3" stroke="#444" stroke-width="0.8"/>
<line x1="285.58" y1="15.3" x2="285.58" y2="17.7" stroke="#444" stroke-width="0.8"/>
<line x1="293.61" y1="142.7" x2="293.61" y2="140.3" stroke="#444" stroke-width="0.8"/>
<line x1="293.61" y1="15.3" x2="293.61" y2="17.7" stroke="#444" stroke-width="0.8"/>
<line x1="301.64" y1="142.7" x2="301.64" y2="140.3" stroke="#444" stroke-width="0.8"/>
<line x1="301.64" y1="15.3" x2="301.64" y2="17.7" stroke="#444" stroke-width="0.8"/>
<line x1="309.67" y1="142.7" x2="309.67" y2="140.3" stroke="#444" stroke-width="0.8"/>
<line x1="309.67" y1="15.3" x2="309.67" y2="17.7" stroke="#444" stroke-width="0.8"/>
<line x1="317.7" y1="142.7" x2="317.7" y2="139.1" stroke="#444" stroke-width="0.8"/>
<line x1="317.7" y1="15.3" x2="317.7" y2="18.9" stroke="#444" stroke-width="0.8"/>
<line x1="325.73" y1="142.7" x2="325.73" y2="140.3" stroke="#444" stroke-width="0.8"/>
<line x1="325.73" y1="15.3" x2="325.73" y2="17.7" stroke="#444" stroke-width="0.8"/>
<line x1="333.76" y1="142.7" x2="333.76" y2="140.3" stroke="#444" stroke-width="0.8"/>
<line x1="333.76" y1="15.3" x2="333.76" y2="17.7" stroke="#444" stroke-width="0.8"/>
<line x1="341.79" y1="142.7" x2="341.79" y2="140.3" stroke="#444" stroke-width="0.8"/>
<line x1="341.79" y1="15.3" x2="341.79" y2="17.7" stroke="#444" stroke-width="0.8"/>
<line x1="349.82" y1="142.7" x2="349.82" y2="140.3" stroke="#444" stroke-width="0.8"/>
<line x1="349.82" y1="15.3" x2="349.82" y2="17.7" stroke="#444" stroke-width="0.8"/>
<line x1="357.85" y1="142.7" x2="357.85" y2="139.1" stroke="#444" stroke-width="0.8"/>
<line x1="357.85" y1="15.3" x2="357.85" y2="18.9" stroke="#444" stroke-width="0.8"/>
<line x1="365.88" y1="142.7" x2="365.88" y2="140.3" stroke="#444" stroke-width="0.8"/>
<line x1="365.88" y1="15.3" x2="365.88" y2="17.7" stroke="#444" stroke-width="0.8"/>
<line x1="373.91" y1="142.7" x2="373.91" y2="140.3" stroke="#444" stroke-width="0.8"/>
<line x1="373.91" y1="15.3" x2="373.91" y2="17.7" stroke="#444" stroke-width="0.8"/>
<line x1="381.94" y1="142.7" x2="381.94" y2="140.3" stroke="#444" stroke-width="0.8"/>
<line x1="381.94" y1="15.3" x2="381.94" y2="17.7" stroke="#444" stroke-width="0.8"/>
<line x1="389.97" y1="142.7" x2="389.97" y2="140.3" stroke="#444" stroke-width="0.8"/>
<line x1="389.97" y1="15.3" x2="389.97" y2="17.7" stroke="#444" stroke-width="0.8"/>
<line x1="398" y1="142.7" x2="398" y2="139.1" stroke="#444" stroke-width="0.8"/>
<line x1="398" y1="15.3" x2="398" y2="18.9" stroke="#444" stroke-width="0.8"/>
<line x1="237.4" y1="142.7" x2="241.6" y2="142.7" stroke="#444" stroke-width="0.9"/>
<line x1="398" y1="142.7" x2="393.8" y2="142.7" stroke="#444" stroke-width="0.9"/>
<line x1="237.4" y1="133.6" x2="239.8" y2="133.6" stroke="#444" stroke-width="0.9"/>
<line x1="398" y1="133.6" x2="395.6" y2="133.6" stroke="#444" stroke-width="0.9"/>
<line x1="237.4" y1="124.5" x2="241.6" y2="124.5" stroke="#444" stroke-width="0.9"/>
<line x1="398" y1="124.5" x2="393.8" y2="124.5" stroke="#444" stroke-width="0.9"/>
<line x1="237.4" y1="115.4" x2="239.8" y2="115.4" stroke="#444" stroke-width="0.9"/>
<line x1="398" y1="115.4" x2="395.6" y2="115.4" stroke="#444" stroke-width="0.9"/>
<line x1="237.4" y1="106.3" x2="241.6" y2="106.3" stroke="#444" stroke-width="0.9"/>
<line x1="398" y1="106.3" x2="393.8" y2="106.3" stroke="#444" stroke-width="0.9"/>
<line x1="237.4" y1="97.2" x2="239.8" y2="97.2" stroke="#444" stroke-width="0.9"/>
<line x1="398" y1="97.2" x2="395.6" y2="97.2" stroke="#444" stroke-width="0.9"/>
<line x1="237.4" y1="88.1" x2="241.6" y2="88.1" stroke="#444" stroke-width="0.9"/>
<line x1="398" y1="88.1" x2="393.8" y2="88.1" stroke="#444" stroke-width="0.9"/>
<line x1="237.4" y1="79" x2="239.8" y2="79" stroke="#444" stroke-width="0.9"/>
<line x1="398" y1="79" x2="395.6" y2="79" stroke="#444" stroke-width="0.9"/>
<line x1="237.4" y1="69.9" x2="241.6" y2="69.9" stroke="#444" stroke-width="0.9"/>
<line x1="398" y1="69.9" x2="393.8" y2="69.9" stroke="#444" stroke-width="0.9"/>
<line x1="237.4" y1="60.8" x2="239.8" y2="60.8" stroke="#444" stroke-width="0.9"/>
<line x1="398" y1="60.8" x2="395.6" y2="60.8" stroke="#444" stroke-width="0.9"/>
<line x1="237.4" y1="51.7" x2="241.6" y2="51.7" stroke="#444" stroke-width="0.9"/>
<line x1="398" y1="51.7" x2="393.8" y2="51.7" stroke="#444" stroke-width="0.9"/>
<line x1="237.4" y1="42.6" x2="239.8" y2="42.6" stroke="#444" stroke-width="0.9"/>
<line x1="398" y1="42.6" x2="395.6" y2="42.6" stroke="#444" stroke-width="0.9"/>
<line x1="237.4" y1="33.5" x2="241.6" y2="33.5" stroke="#444" stroke-width="0.9"/>
<line x1="398" y1="33.5" x2="393.8" y2="33.5" stroke="#444" stroke-width="0.9"/>
<line x1="237.4" y1="24.4" x2="239.8" y2="24.4" stroke="#444" stroke-width="0.9"/>
<line x1="398" y1="24.4" x2="395.6" y2="24.4" stroke="#444" stroke-width="0.9"/>
<line x1="237.4" y1="15.3" x2="241.6" y2="15.3" stroke="#444" stroke-width="0.9"/>
<line x1="398" y1="15.3" x2="393.8" y2="15.3" stroke="#444" stroke-width="0.9"/>
<rect x="237.4" y="15.3" width="160.6" height="127.4" fill="none" stroke="#000" stroke-width="1.9" rx="0.8"/>
<text x="234.8" y="145.9" font-size="9" text-anchor="end" font-weight="bold" font-style="normal" fill="#111" stroke="#111" stroke-width="0.25">0</text>
<text x="234.8" y="127.7" font-size="9" text-anchor="end" font-weight="bold" font-style="normal" fill="#111" stroke="#111" stroke-width="0.25">50</text>
<text x="234.8" y="109.5" font-size="9" text-anchor="end" font-weight="bold" font-style="normal" fill="#111" stroke="#111" stroke-width="0.25">100</text>
<text x="234.8" y="91.3" font-size="9" text-anchor="end" font-weight="bold" font-style="normal" fill="#111" stroke="#111" stroke-width="0.25">150</text>
<text x="234.8" y="73.1" font-size="9" text-anchor="end" font-weight="bold" font-style="normal" fill="#111" stroke="#111" stroke-width="0.25">200</text>
<text x="234.8" y="54.9" font-size="9" text-anchor="end" font-weight="bold" font-style="normal" fill="#111" stroke="#111" stroke-width="0.25">250</text>
<text x="234.8" y="36.7" font-size="9" text-anchor="end" font-weight="bold" font-style="normal" fill="#111" stroke="#111" stroke-width="0.25">300</text>
<text x="234.8" y="18.5" font-size="9" text-anchor="end" font-weight="bold" font-style="normal" fill="#111" stroke="#111" stroke-width="0.25">350</text>
<text x="237.4" y="154.2" font-size="9" text-anchor="middle" font-weight="bold" font-style="normal" fill="#111" stroke="#111" stroke-width="0.25">0</text>
<text x="277.55" y="154.2" font-size="9" text-anchor="middle" font-weight="bold" font-style="normal" fill="#111" stroke="#111" stroke-width="0.25">1</text>
<text x="317.7" y="154.2" font-size="9" text-anchor="middle" font-weight="bold" font-style="normal" fill="#111" stroke="#111" stroke-width="0.25">2</text>
<text x="357.85" y="154.2" font-size="9" text-anchor="middle" font-weight="bold" font-style="normal" fill="#111" stroke="#111" stroke-width="0.25">3</text>
<text x="398" y="154.2" font-size="9" text-anchor="middle" font-weight="bold" font-style="normal" fill="#111" stroke="#111" stroke-width="0.25">4</text>
<text x="313.5" y="167" font-size="9.5" text-anchor="middle" font-weight="bold" font-style="italic" fill="#111" stroke="#111" stroke-width="0.25">Time <tspan font-size="8.8" font-weight="normal" stroke="#111" stroke-width="0.3">(s)</tspan></text>
<text transform="translate(215.3,80.5) rotate(-90)" font-size="10" text-anchor="middle" font-weight="bold" font-style="italic" fill="#111" stroke="#111" stroke-width="0.2">Speed <tspan>(rad/s)</tspan></text>
<text x="305.5" y="182.7" font-size="9.6" text-anchor="middle" font-weight="bold" font-style="normal" fill="#111" stroke="#111" stroke-width="0.1">(b)</text>
<circle cx="317.1" cy="28.75" r="4.8" fill="none" stroke="#5b2d7d" stroke-width="1.1"/>
<line x1="313.04" y1="33.43" x2="304.01" y2="43.83" stroke="#6a4a7a" stroke-width="0.8"/>
<polygon points="299.1,49.5 301.97,42.07 306.05,45.6" fill="#8a0c98"/>
<rect x="278.6" y="55.8" width="50.4" height="30.5" fill="#fff"/>
<line x1="280.7" y1="55.8" x2="280.7" y2="86.3" stroke="#d8d8d8" stroke-width="0.5" stroke-dasharray="0.8 0.8"/>
<line x1="282.8" y1="55.8" x2="282.8" y2="86.3" stroke="#d8d8d8" stroke-width="0.5" stroke-dasharray="0.8 0.8"/>
<line x1="284.9" y1="55.8" x2="284.9" y2="86.3" stroke="#d8d8d8" stroke-width="0.5" stroke-dasharray="0.8 0.8"/>
<line x1="287" y1="55.8" x2="287" y2="86.3" stroke="#d8d8d8" stroke-width="0.5" stroke-dasharray="0.8 0.8"/>
<line x1="291.2" y1="55.8" x2="291.2" y2="86.3" stroke="#d8d8d8" stroke-width="0.5" stroke-dasharray="0.8 0.8"/>
<line x1="293.3" y1="55.8" x2="293.3" y2="86.3" stroke="#d8d8d8" stroke-width="0.5" stroke-dasharray="0.8 0.8"/>
<line x1="295.4" y1="55.8" x2="295.4" y2="86.3" stroke="#d8d8d8" stroke-width="0.5" stroke-dasharray="0.8 0.8"/>
<line x1="297.5" y1="55.8" x2="297.5" y2="86.3" stroke="#d8d8d8" stroke-width="0.5" stroke-dasharray="0.8 0.8"/>
<line x1="301.7" y1="55.8" x2="301.7" y2="86.3" stroke="#d8d8d8" stroke-width="0.5" stroke-dasharray="0.8 0.8"/>
<line x1="303.8" y1="55.8" x2="303.8" y2="86.3" stroke="#d8d8d8" stroke-width="0.5" stroke-dasharray="0.8 0.8"/>
<line x1="305.9" y1="55.8" x2="305.9" y2="86.3" stroke="#d8d8d8" stroke-width="0.5" stroke-dasharray="0.8 0.8"/>
<line x1="308" y1="55.8" x2="308" y2="86.3" stroke="#d8d8d8" stroke-width="0.5" stroke-dasharray="0.8 0.8"/>
<line x1="312.2" y1="55.8" x2="312.2" y2="86.3" stroke="#d8d8d8" stroke-width="0.5" stroke-dasharray="0.8 0.8"/>
<line x1="314.3" y1="55.8" x2="314.3" y2="86.3" stroke="#d8d8d8" stroke-width="0.5" stroke-dasharray="0.8 0.8"/>
<line x1="316.4" y1="55.8" x2="316.4" y2="86.3" stroke="#d8d8d8" stroke-width="0.5" stroke-dasharray="0.8 0.8"/>
<line x1="318.5" y1="55.8" x2="318.5" y2="86.3" stroke="#d8d8d8" stroke-width="0.5" stroke-dasharray="0.8 0.8"/>
<line x1="322.7" y1="55.8" x2="322.7" y2="86.3" stroke="#d8d8d8" stroke-width="0.5" stroke-dasharray="0.8 0.8"/>
<line x1="324.8" y1="55.8" x2="324.8" y2="86.3" stroke="#d8d8d8" stroke-width="0.5" stroke-dasharray="0.8 0.8"/>
<line x1="326.9" y1="55.8" x2="326.9" y2="86.3" stroke="#d8d8d8" stroke-width="0.5" stroke-dasharray="0.8 0.8"/>
<line x1="278.6" y1="84.39" x2="329" y2="84.39" stroke="#d8d8d8" stroke-width="0.5" stroke-dasharray="0.8 0.8"/>
<line x1="278.6" y1="82.49" x2="329" y2="82.49" stroke="#d8d8d8" stroke-width="0.5" stroke-dasharray="0.8 0.8"/>
<line x1="278.6" y1="80.58" x2="329" y2="80.58" stroke="#d8d8d8" stroke-width="0.5" stroke-dasharray="0.8 0.8"/>
<line x1="278.6" y1="78.67" x2="329" y2="78.67" stroke="#d8d8d8" stroke-width="0.5" stroke-dasharray="0.8 0.8"/>
<line x1="278.6" y1="76.77" x2="329" y2="76.77" stroke="#d8d8d8" stroke-width="0.5" stroke-dasharray="0.8 0.8"/>
<line x1="278.6" y1="74.86" x2="329" y2="74.86" stroke="#d8d8d8" stroke-width="0.5" stroke-dasharray="0.8 0.8"/>
<line x1="278.6" y1="72.96" x2="329" y2="72.96" stroke="#d8d8d8" stroke-width="0.5" stroke-dasharray="0.8 0.8"/>
<line x1="278.6" y1="71.05" x2="329" y2="71.05" stroke="#d8d8d8" stroke-width="0.5" stroke-dasharray="0.8 0.8"/>
<line x1="278.6" y1="69.14" x2="329" y2="69.14" stroke="#d8d8d8" stroke-width="0.5" stroke-dasharray="0.8 0.8"/>
<line x1="278.6" y1="67.24" x2="329" y2="67.24" stroke="#d8d8d8" stroke-width="0.5" stroke-dasharray="0.8 0.8"/>
<line x1="278.6" y1="65.33" x2="329" y2="65.33" stroke="#d8d8d8" stroke-width="0.5" stroke-dasharray="0.8 0.8"/>
<line x1="278.6" y1="63.42" x2="329" y2="63.42" stroke="#d8d8d8" stroke-width="0.5" stroke-dasharray="0.8 0.8"/>
<line x1="278.6" y1="61.52" x2="329" y2="61.52" stroke="#d8d8d8" stroke-width="0.5" stroke-dasharray="0.8 0.8"/>
<line x1="278.6" y1="59.61" x2="329" y2="59.61" stroke="#d8d8d8" stroke-width="0.5" stroke-dasharray="0.8 0.8"/>
<line x1="278.6" y1="57.71" x2="329" y2="57.71" stroke="#d8d8d8" stroke-width="0.5" stroke-dasharray="0.8 0.8"/>
<line x1="289.1" y1="55.8" x2="289.1" y2="86.3" stroke="#9a9a9a" stroke-width="0.6"/>
<line x1="299.6" y1="55.8" x2="299.6" y2="86.3" stroke="#9a9a9a" stroke-width="0.6"/>
<line x1="310.1" y1="55.8" x2="310.1" y2="86.3" stroke="#9a9a9a" stroke-width="0.6"/>
<line x1="320.6" y1="55.8" x2="320.6" y2="86.3" stroke="#9a9a9a" stroke-width="0.6"/>
<line x1="278.6" y1="78.67" x2="329" y2="78.67" stroke="#9a9a9a" stroke-width="0.6"/>
<line x1="278.6" y1="71.05" x2="329" y2="71.05" stroke="#9a9a9a" stroke-width="0.6"/>
<line x1="278.6" y1="63.42" x2="329" y2="63.42" stroke="#9a9a9a" stroke-width="0.6"/>
<clipPath id="c441"><rect x="278.6" y="55.8" width="50.4" height="30.5"/></clipPath><g clip-path="url(#c441)">
<line x1="278.6" y1="81.11" x2="329" y2="81.11" stroke="#0e6c14" stroke-width="1.4" stroke-dasharray="5.8 1.8"/>
<polyline points="273.35,62.2 352.1,62.2" fill="none" stroke="#e3242b" stroke-width="1.5" stroke-linejoin="round"/>
</g>
<line x1="278.6" y1="55.8" x2="278.6" y2="58.8" stroke="#111" stroke-width="0.7"/>
<line x1="278.6" y1="86.3" x2="278.6" y2="83.3" stroke="#111" stroke-width="0.7"/>
<line x1="280.7" y1="55.8" x2="280.7" y2="58" stroke="#111" stroke-width="0.7"/>
<line x1="280.7" y1="86.3" x2="280.7" y2="84.1" stroke="#111" stroke-width="0.7"/>
<line x1="282.8" y1="55.8" x2="282.8" y2="58" stroke="#111" stroke-width="0.7"/>
<line x1="282.8" y1="86.3" x2="282.8" y2="84.1" stroke="#111" stroke-width="0.7"/>
<line x1="284.9" y1="55.8" x2="284.9" y2="58" stroke="#111" stroke-width="0.7"/>
<line x1="284.9" y1="86.3" x2="284.9" y2="84.1" stroke="#111" stroke-width="0.7"/>
<line x1="287" y1="55.8" x2="287" y2="58" stroke="#111" stroke-width="0.7"/>
<line x1="287" y1="86.3" x2="287" y2="84.1" stroke="#111" stroke-width="0.7"/>
<line x1="289.1" y1="55.8" x2="289.1" y2="58.8" stroke="#111" stroke-width="0.7"/>
<line x1="289.1" y1="86.3" x2="289.1" y2="83.3" stroke="#111" stroke-width="0.7"/>
<line x1="291.2" y1="55.8" x2="291.2" y2="58" stroke="#111" stroke-width="0.7"/>
<line x1="291.2" y1="86.3" x2="291.2" y2="84.1" stroke="#111" stroke-width="0.7"/>
<line x1="293.3" y1="55.8" x2="293.3" y2="58" stroke="#111" stroke-width="0.7"/>
<line x1="293.3" y1="86.3" x2="293.3" y2="84.1" stroke="#111" stroke-width="0.7"/>
<line x1="295.4" y1="55.8" x2="295.4" y2="58" stroke="#111" stroke-width="0.7"/>
<line x1="295.4" y1="86.3" x2="295.4" y2="84.1" stroke="#111" stroke-width="0.7"/>
<line x1="297.5" y1="55.8" x2="297.5" y2="58" stroke="#111" stroke-width="0.7"/>
<line x1="297.5" y1="86.3" x2="297.5" y2="84.1" stroke="#111" stroke-width="0.7"/>
<line x1="299.6" y1="55.8" x2="299.6" y2="58.8" stroke="#111" stroke-width="0.7"/>
<line x1="299.6" y1="86.3" x2="299.6" y2="83.3" stroke="#111" stroke-width="0.7"/>
<line x1="301.7" y1="55.8" x2="301.7" y2="58" stroke="#111" stroke-width="0.7"/>
<line x1="301.7" y1="86.3" x2="301.7" y2="84.1" stroke="#111" stroke-width="0.7"/>
<line x1="303.8" y1="55.8" x2="303.8" y2="58" stroke="#111" stroke-width="0.7"/>
<line x1="303.8" y1="86.3" x2="303.8" y2="84.1" stroke="#111" stroke-width="0.7"/>
<line x1="305.9" y1="55.8" x2="305.9" y2="58" stroke="#111" stroke-width="0.7"/>
<line x1="305.9" y1="86.3" x2="305.9" y2="84.1" stroke="#111" stroke-width="0.7"/>
<line x1="308" y1="55.8" x2="308" y2="58" stroke="#111" stroke-width="0.7"/>
<line x1="308" y1="86.3" x2="308" y2="84.1" stroke="#111" stroke-width="0.7"/>
<line x1="310.1" y1="55.8" x2="310.1" y2="58.8" stroke="#111" stroke-width="0.7"/>
<line x1="310.1" y1="86.3" x2="310.1" y2="83.3" stroke="#111" stroke-width="0.7"/>
<line x1="312.2" y1="55.8" x2="312.2" y2="58" stroke="#111" stroke-width="0.7"/>
<line x1="312.2" y1="86.3" x2="312.2" y2="84.1" stroke="#111" stroke-width="0.7"/>
<line x1="314.3" y1="55.8" x2="314.3" y2="58" stroke="#111" stroke-width="0.7"/>
<line x1="314.3" y1="86.3" x2="314.3" y2="84.1" stroke="#111" stroke-width="0.7"/>
<line x1="316.4" y1="55.8" x2="316.4" y2="58" stroke="#111" stroke-width="0.7"/>
<line x1="316.4" y1="86.3" x2="316.4" y2="84.1" stroke="#111" stroke-width="0.7"/>
<line x1="318.5" y1="55.8" x2="318.5" y2="58" stroke="#111" stroke-width="0.7"/>
<line x1="318.5" y1="86.3" x2="318.5" y2="84.1" stroke="#111" stroke-width="0.7"/>
<line x1="320.6" y1="55.8" x2="320.6" y2="58.8" stroke="#111" stroke-width="0.7"/>
<line x1="320.6" y1="86.3" x2="320.6" y2="83.3" stroke="#111" stroke-width="0.7"/>
<line x1="322.7" y1="55.8" x2="322.7" y2="58" stroke="#111" stroke-width="0.7"/>
<line x1="322.7" y1="86.3" x2="322.7" y2="84.1" stroke="#111" stroke-width="0.7"/>
<line x1="324.8" y1="55.8" x2="324.8" y2="58" stroke="#111" stroke-width="0.7"/>
<line x1="324.8" y1="86.3" x2="324.8" y2="84.1" stroke="#111" stroke-width="0.7"/>
<line x1="326.9" y1="55.8" x2="326.9" y2="58" stroke="#111" stroke-width="0.7"/>
<line x1="326.9" y1="86.3" x2="326.9" y2="84.1" stroke="#111" stroke-width="0.7"/>
<line x1="329" y1="55.8" x2="329" y2="58" stroke="#111" stroke-width="0.7"/>
<line x1="329" y1="86.3" x2="329" y2="84.1" stroke="#111" stroke-width="0.7"/>
<line x1="278.6" y1="86.3" x2="281.6" y2="86.3" stroke="#111" stroke-width="0.7"/>
<line x1="329" y1="86.3" x2="326" y2="86.3" stroke="#111" stroke-width="0.7"/>
<line x1="278.6" y1="84.39" x2="280.8" y2="84.39" stroke="#111" stroke-width="0.7"/>
<line x1="329" y1="84.39" x2="326.8" y2="84.39" stroke="#111" stroke-width="0.7"/>
<line x1="278.6" y1="82.49" x2="280.8" y2="82.49" stroke="#111" stroke-width="0.7"/>
<line x1="329" y1="82.49" x2="326.8" y2="82.49" stroke="#111" stroke-width="0.7"/>
<line x1="278.6" y1="80.58" x2="280.8" y2="80.58" stroke="#111" stroke-width="0.7"/>
<line x1="329" y1="80.58" x2="326.8" y2="80.58" stroke="#111" stroke-width="0.7"/>
<line x1="278.6" y1="78.67" x2="281.6" y2="78.67" stroke="#111" stroke-width="0.7"/>
<line x1="329" y1="78.67" x2="326" y2="78.67" stroke="#111" stroke-width="0.7"/>
<line x1="278.6" y1="76.77" x2="280.8" y2="76.77" stroke="#111" stroke-width="0.7"/>
<line x1="329" y1="76.77" x2="326.8" y2="76.77" stroke="#111" stroke-width="0.7"/>
<line x1="278.6" y1="74.86" x2="280.8" y2="74.86" stroke="#111" stroke-width="0.7"/>
<line x1="329" y1="74.86" x2="326.8" y2="74.86" stroke="#111" stroke-width="0.7"/>
<line x1="278.6" y1="72.96" x2="280.8" y2="72.96" stroke="#111" stroke-width="0.7"/>
<line x1="329" y1="72.96" x2="326.8" y2="72.96" stroke="#111" stroke-width="0.7"/>
<line x1="278.6" y1="71.05" x2="281.6" y2="71.05" stroke="#111" stroke-width="0.7"/>
<line x1="329" y1="71.05" x2="326" y2="71.05" stroke="#111" stroke-width="0.7"/>
<line x1="278.6" y1="69.14" x2="280.8" y2="69.14" stroke="#111" stroke-width="0.7"/>
<line x1="329" y1="69.14" x2="326.8" y2="69.14" stroke="#111" stroke-width="0.7"/>
<line x1="278.6" y1="67.24" x2="280.8" y2="67.24" stroke="#111" stroke-width="0.7"/>
<line x1="329" y1="67.24" x2="326.8" y2="67.24" stroke="#111" stroke-width="0.7"/>
<line x1="278.6" y1="65.33" x2="280.8" y2="65.33" stroke="#111" stroke-width="0.7"/>
<line x1="329" y1="65.33" x2="326.8" y2="65.33" stroke="#111" stroke-width="0.7"/>
<line x1="278.6" y1="63.42" x2="281.6" y2="63.42" stroke="#111" stroke-width="0.7"/>
<line x1="329" y1="63.42" x2="326" y2="63.42" stroke="#111" stroke-width="0.7"/>
<line x1="278.6" y1="61.52" x2="280.8" y2="61.52" stroke="#111" stroke-width="0.7"/>
<line x1="329" y1="61.52" x2="326.8" y2="61.52" stroke="#111" stroke-width="0.7"/>
<line x1="278.6" y1="59.61" x2="280.8" y2="59.61" stroke="#111" stroke-width="0.7"/>
<line x1="329" y1="59.61" x2="326.8" y2="59.61" stroke="#111" stroke-width="0.7"/>
<line x1="278.6" y1="57.71" x2="280.8" y2="57.71" stroke="#111" stroke-width="0.7"/>
<line x1="329" y1="57.71" x2="326.8" y2="57.71" stroke="#111" stroke-width="0.7"/>
<line x1="278.6" y1="55.8" x2="281.6" y2="55.8" stroke="#111" stroke-width="0.7"/>
<line x1="329" y1="55.8" x2="326" y2="55.8" stroke="#111" stroke-width="0.7"/>
<rect x="278.6" y="55.8" width="50.4" height="30.5" fill="none" stroke="#1a1a1a" stroke-width="1.4"/>
<text x="277" y="89" font-size="7.5" text-anchor="end" font-weight="normal" font-style="normal" fill="#111" stroke="#222" stroke-width="0.15">314</text>
<text x="277" y="81.38" font-size="7.5" text-anchor="end" font-weight="normal" font-style="normal" fill="#111" stroke="#222" stroke-width="0.15">314.25</text>
<text x="277" y="73.75" font-size="7.5" text-anchor="end" font-weight="normal" font-style="normal" fill="#111" stroke="#222" stroke-width="0.15">314.5</text>
<text x="277" y="66.12" font-size="7.5" text-anchor="end" font-weight="normal" font-style="normal" fill="#111" stroke="#222" stroke-width="0.15">314.75</text>
<text x="277" y="58.5" font-size="7.5" text-anchor="end" font-weight="normal" font-style="normal" fill="#111" stroke="#222" stroke-width="0.15">315</text>
<text x="278.6" y="95" font-size="7.5" text-anchor="middle" font-weight="normal" font-style="normal" fill="#111" stroke="#222" stroke-width="0.15">1.9</text>
<text x="289.1" y="95" font-size="7.5" text-anchor="middle" font-weight="normal" font-style="normal" fill="#111" stroke="#222" stroke-width="0.15">2</text>
<text x="299.2" y="95" font-size="7.5" text-anchor="middle" font-weight="normal" font-style="normal" fill="#111" stroke="#222" stroke-width="0.15">2.1</text>
<text x="308.8" y="95" font-size="7.5" text-anchor="middle" font-weight="normal" font-style="normal" fill="#111" stroke="#222" stroke-width="0.15">2.2</text>
<text x="318.9" y="95" font-size="7.5" text-anchor="middle" font-weight="normal" font-style="normal" fill="#111" stroke="#222" stroke-width="0.15">2.3</text>
<rect x="275.2" y="111.7" width="84.2" height="23.6" fill="#fff" stroke="#333" stroke-width="1.35" rx="0.6"/>
<line x1="283.7" y1="119.49" x2="309.2" y2="119.49" stroke="#e8585e" stroke-width="1.7"/>
<line x1="283.7" y1="127.28" x2="309.2" y2="127.28" stroke="#0e6c14" stroke-width="1.5" stroke-dasharray="5.5 1.8"/>
<text x="316.7" y="122.49" font-size="6.8" font-weight="bold" fill="#111" stroke="#111" stroke-width="0.2">&#969;<tspan font-size="4.4" dy="1.2">r</tspan></text>
<text x="325.7" y="122.49" font-size="6.7" font-weight="bold" font-style="italic" fill="#222" stroke="#222" stroke-width="0.12">(rad/s)</text>
<text x="316.7" y="130.28" font-size="6.8" font-weight="bold" fill="#111" stroke="#111" stroke-width="0.2">&#969;<tspan font-size="4.4" dy="1.2">e</tspan></text>
<text x="325.7" y="130.28" font-size="6.7" font-weight="bold" font-style="italic" fill="#222" stroke="#222" stroke-width="0.12">(rad/s)</text>
<line x1="45.5" y1="192.5" x2="45.5" y2="322.6" stroke="#f1f1f1" stroke-width="1"/>
<line x1="53.5" y1="192.5" x2="53.5" y2="322.6" stroke="#f1f1f1" stroke-width="1"/>
<line x1="61.5" y1="192.5" x2="61.5" y2="322.6" stroke="#f1f1f1" stroke-width="1"/>
<line x1="69.5" y1="192.5" x2="69.5" y2="322.6" stroke="#f1f1f1" stroke-width="1"/>
<line x1="85.5" y1="192.5" x2="85.5" y2="322.6" stroke="#f1f1f1" stroke-width="1"/>
<line x1="94.5" y1="192.5" x2="94.5" y2="322.6" stroke="#f1f1f1" stroke-width="1"/>
<line x1="102.5" y1="192.5" x2="102.5" y2="322.6" stroke="#f1f1f1" stroke-width="1"/>
<line x1="110.5" y1="192.5" x2="110.5" y2="322.6" stroke="#f1f1f1" stroke-width="1"/>
<line x1="126.5" y1="192.5" x2="126.5" y2="322.6" stroke="#f1f1f1" stroke-width="1"/>
<line x1="134.5" y1="192.5" x2="134.5" y2="322.6" stroke="#f1f1f1" stroke-width="1"/>
<line x1="142.5" y1="192.5" x2="142.5" y2="322.6" stroke="#f1f1f1" stroke-width="1"/>
<line x1="151.5" y1="192.5" x2="151.5" y2="322.6" stroke="#f1f1f1" stroke-width="1"/>
<line x1="167.5" y1="192.5" x2="167.5" y2="322.6" stroke="#f1f1f1" stroke-width="1"/>
<line x1="175.5" y1="192.5" x2="175.5" y2="322.6" stroke="#f1f1f1" stroke-width="1"/>
<line x1="183.5" y1="192.5" x2="183.5" y2="322.6" stroke="#f1f1f1" stroke-width="1"/>
<line x1="191.5" y1="192.5" x2="191.5" y2="322.6" stroke="#f1f1f1" stroke-width="1"/>
<line x1="37" y1="313.5" x2="200" y2="313.5" stroke="#f1f1f1" stroke-width="1"/>
<line x1="37" y1="294.5" x2="200" y2="294.5" stroke="#f1f1f1" stroke-width="1"/>
<line x1="37" y1="276.5" x2="200" y2="276.5" stroke="#f1f1f1" stroke-width="1"/>
<line x1="37" y1="257.5" x2="200" y2="257.5" stroke="#f1f1f1" stroke-width="1"/>
<line x1="37" y1="238.5" x2="200" y2="238.5" stroke="#f1f1f1" stroke-width="1"/>
<line x1="37" y1="220.5" x2="200" y2="220.5" stroke="#f1f1f1" stroke-width="1"/>
<line x1="37" y1="201.5" x2="200" y2="201.5" stroke="#f1f1f1" stroke-width="1"/>
<line x1="77.5" y1="192.5" x2="77.5" y2="322.6" stroke="#bcbcbc" stroke-width="1"/>
<line x1="118.5" y1="192.5" x2="118.5" y2="322.6" stroke="#bcbcbc" stroke-width="1"/>
<line x1="159.5" y1="192.5" x2="159.5" y2="322.6" stroke="#bcbcbc" stroke-width="1"/>
<line x1="37" y1="304.5" x2="200" y2="304.5" stroke="#bcbcbc" stroke-width="1"/>
<line x1="37" y1="285.5" x2="200" y2="285.5" stroke="#bcbcbc" stroke-width="1"/>
<line x1="37" y1="266.5" x2="200" y2="266.5" stroke="#bcbcbc" stroke-width="1"/>
<line x1="37" y1="248.5" x2="200" y2="248.5" stroke="#bcbcbc" stroke-width="1"/>
<line x1="37" y1="229.5" x2="200" y2="229.5" stroke="#bcbcbc" stroke-width="1"/>
<line x1="37" y1="211.5" x2="200" y2="211.5" stroke="#bcbcbc" stroke-width="1"/>
<polyline points="37,322.6 63,205.82 200,205.82" fill="none" stroke="#cc2426" stroke-width="1.7" stroke-linejoin="round"/>
<polyline points="37,322.6 63,205.82 200,205.82" fill="none" stroke="#901616" stroke-width="1.1" stroke-dasharray="5.2 1.6" transform="translate(-0.2,-0.3)" stroke-linejoin="round"/>
<line x1="37" y1="322.6" x2="37" y2="319" stroke="#444" stroke-width="0.8"/>
<line x1="37" y1="192.5" x2="37" y2="196.1" stroke="#444" stroke-width="0.8"/>
<line x1="45.15" y1="322.6" x2="45.15" y2="320.2" stroke="#444" stroke-width="0.8"/>
<line x1="45.15" y1="192.5" x2="45.15" y2="194.9" stroke="#444" stroke-width="0.8"/>
<line x1="53.3" y1="322.6" x2="53.3" y2="320.2" stroke="#444" stroke-width="0.8"/>
<line x1="53.3" y1="192.5" x2="53.3" y2="194.9" stroke="#444" stroke-width="0.8"/>
<line x1="61.45" y1="322.6" x2="61.45" y2="320.2" stroke="#444" stroke-width="0.8"/>
<line x1="61.45" y1="192.5" x2="61.45" y2="194.9" stroke="#444" stroke-width="0.8"/>
<line x1="69.6" y1="322.6" x2="69.6" y2="320.2" stroke="#444" stroke-width="0.8"/>
<line x1="69.6" y1="192.5" x2="69.6" y2="194.9" stroke="#444" stroke-width="0.8"/>
<line x1="77.75" y1="322.6" x2="77.75" y2="319" stroke="#444" stroke-width="0.8"/>
<line x1="77.75" y1="192.5" x2="77.75" y2="196.1" stroke="#444" stroke-width="0.8"/>
<line x1="85.9" y1="322.6" x2="85.9" y2="320.2" stroke="#444" stroke-width="0.8"/>
<line x1="85.9" y1="192.5" x2="85.9" y2="194.9" stroke="#444" stroke-width="0.8"/>
<line x1="94.05" y1="322.6" x2="94.05" y2="320.2" stroke="#444" stroke-width="0.8"/>
<line x1="94.05" y1="192.5" x2="94.05" y2="194.9" stroke="#444" stroke-width="0.8"/>
<line x1="102.2" y1="322.6" x2="102.2" y2="320.2" stroke="#444" stroke-width="0.8"/>
<line x1="102.2" y1="192.5" x2="102.2" y2="194.9" stroke="#444" stroke-width="0.8"/>
<line x1="110.35" y1="322.6" x2="110.35" y2="320.2" stroke="#444" stroke-width="0.8"/>
<line x1="110.35" y1="192.5" x2="110.35" y2="194.9" stroke="#444" stroke-width="0.8"/>
<line x1="118.5" y1="322.6" x2="118.5" y2="319" stroke="#444" stroke-width="0.8"/>
<line x1="118.5" y1="192.5" x2="118.5" y2="196.1" stroke="#444" stroke-width="0.8"/>
<line x1="126.65" y1="322.6" x2="126.65" y2="320.2" stroke="#444" stroke-width="0.8"/>
<line x1="126.65" y1="192.5" x2="126.65" y2="194.9" stroke="#444" stroke-width="0.8"/>
<line x1="134.8" y1="322.6" x2="134.8" y2="320.2" stroke="#444" stroke-width="0.8"/>
<line x1="134.8" y1="192.5" x2="134.8" y2="194.9" stroke="#444" stroke-width="0.8"/>
<line x1="142.95" y1="322.6" x2="142.95" y2="320.2" stroke="#444" stroke-width="0.8"/>
<line x1="142.95" y1="192.5" x2="142.95" y2="194.9" stroke="#444" stroke-width="0.8"/>
<line x1="151.1" y1="322.6" x2="151.1" y2="320.2" stroke="#444" stroke-width="0.8"/>
<line x1="151.1" y1="192.5" x2="151.1" y2="194.9" stroke="#444" stroke-width="0.8"/>
<line x1="159.25" y1="322.6" x2="159.25" y2="319" stroke="#444" stroke-width="0.8"/>
<line x1="159.25" y1="192.5" x2="159.25" y2="196.1" stroke="#444" stroke-width="0.8"/>
<line x1="167.4" y1="322.6" x2="167.4" y2="320.2" stroke="#444" stroke-width="0.8"/>
<line x1="167.4" y1="192.5" x2="167.4" y2="194.9" stroke="#444" stroke-width="0.8"/>
<line x1="175.55" y1="322.6" x2="175.55" y2="320.2" stroke="#444" stroke-width="0.8"/>
<line x1="175.55" y1="192.5" x2="175.55" y2="194.9" stroke="#444" stroke-width="0.8"/>
<line x1="183.7" y1="322.6" x2="183.7" y2="320.2" stroke="#444" stroke-width="0.8"/>
<line x1="183.7" y1="192.5" x2="183.7" y2="194.9" stroke="#444" stroke-width="0.8"/>
<line x1="191.85" y1="322.6" x2="191.85" y2="320.2" stroke="#444" stroke-width="0.8"/>
<line x1="191.85" y1="192.5" x2="191.85" y2="194.9" stroke="#444" stroke-width="0.8"/>
<line x1="200" y1="322.6" x2="200" y2="319" stroke="#444" stroke-width="0.8"/>
<line x1="200" y1="192.5" x2="200" y2="196.1" stroke="#444" stroke-width="0.8"/>
<line x1="37" y1="322.6" x2="41.2" y2="322.6" stroke="#444" stroke-width="0.9"/>
<line x1="200" y1="322.6" x2="195.8" y2="322.6" stroke="#444" stroke-width="0.9"/>
<line x1="37" y1="313.31" x2="39.4" y2="313.31" stroke="#444" stroke-width="0.9"/>
<line x1="200" y1="313.31" x2="197.6" y2="313.31" stroke="#444" stroke-width="0.9"/>
<line x1="37" y1="304.01" x2="41.2" y2="304.01" stroke="#444" stroke-width="0.9"/>
<line x1="200" y1="304.01" x2="195.8" y2="304.01" stroke="#444" stroke-width="0.9"/>
<line x1="37" y1="294.72" x2="39.4" y2="294.72" stroke="#444" stroke-width="0.9"/>
<line x1="200" y1="294.72" x2="197.6" y2="294.72" stroke="#444" stroke-width="0.9"/>
<line x1="37" y1="285.43" x2="41.2" y2="285.43" stroke="#444" stroke-width="0.9"/>
<line x1="200" y1="285.43" x2="195.8" y2="285.43" stroke="#444" stroke-width="0.9"/>
<line x1="37" y1="276.14" x2="39.4" y2="276.14" stroke="#444" stroke-width="0.9"/>
<line x1="200" y1="276.14" x2="197.6" y2="276.14" stroke="#444" stroke-width="0.9"/>
<line x1="37" y1="266.84" x2="41.2" y2="266.84" stroke="#444" stroke-width="0.9"/>
<line x1="200" y1="266.84" x2="195.8" y2="266.84" stroke="#444" stroke-width="0.9"/>
<line x1="37" y1="257.55" x2="39.4" y2="257.55" stroke="#444" stroke-width="0.9"/>
<line x1="200" y1="257.55" x2="197.6" y2="257.55" stroke="#444" stroke-width="0.9"/>
<line x1="37" y1="248.26" x2="41.2" y2="248.26" stroke="#444" stroke-width="0.9"/>
<line x1="200" y1="248.26" x2="195.8" y2="248.26" stroke="#444" stroke-width="0.9"/>
<line x1="37" y1="238.96" x2="39.4" y2="238.96" stroke="#444" stroke-width="0.9"/>
<line x1="200" y1="238.96" x2="197.6" y2="238.96" stroke="#444" stroke-width="0.9"/>
<line x1="37" y1="229.67" x2="41.2" y2="229.67" stroke="#444" stroke-width="0.9"/>
<line x1="200" y1="229.67" x2="195.8" y2="229.67" stroke="#444" stroke-width="0.9"/>
<line x1="37" y1="220.38" x2="39.4" y2="220.38" stroke="#444" stroke-width="0.9"/>
<line x1="200" y1="220.38" x2="197.6" y2="220.38" stroke="#444" stroke-width="0.9"/>
<line x1="37" y1="211.09" x2="41.2" y2="211.09" stroke="#444" stroke-width="0.9"/>
<line x1="200" y1="211.09" x2="195.8" y2="211.09" stroke="#444" stroke-width="0.9"/>
<line x1="37" y1="201.79" x2="39.4" y2="201.79" stroke="#444" stroke-width="0.9"/>
<line x1="200" y1="201.79" x2="197.6" y2="201.79" stroke="#444" stroke-width="0.9"/>
<line x1="37" y1="192.5" x2="41.2" y2="192.5" stroke="#444" stroke-width="0.9"/>
<line x1="200" y1="192.5" x2="195.8" y2="192.5" stroke="#444" stroke-width="0.9"/>
<rect x="37" y="192.5" width="163" height="130.1" fill="none" stroke="#000" stroke-width="1.9" rx="0.8"/>
<text x="34.4" y="325.8" font-size="9" text-anchor="end" font-weight="bold" font-style="normal" fill="#111" stroke="#111" stroke-width="0.25">0</text>
<text x="34.4" y="307.21" font-size="9" text-anchor="end" font-weight="bold" font-style="normal" fill="#111" stroke="#111" stroke-width="0.25">50</text>
<text x="34.4" y="288.63" font-size="9" text-anchor="end" font-weight="bold" font-style="normal" fill="#111" stroke="#111" stroke-width="0.25">100</text>
<text x="34.4" y="270.04" font-size="9" text-anchor="end" font-weight="bold" font-style="normal" fill="#111" stroke="#111" stroke-width="0.25">150</text>
<text x="34.4" y="251.46" font-size="9" text-anchor="end" font-weight="bold" font-style="normal" fill="#111" stroke="#111" stroke-width="0.25">200</text>
<text x="34.4" y="232.87" font-size="9" text-anchor="end" font-weight="bold" font-style="normal" fill="#111" stroke="#111" stroke-width="0.25">250</text>
<text x="34.4" y="214.29" font-size="9" text-anchor="end" font-weight="bold" font-style="normal" fill="#111" stroke="#111" stroke-width="0.25">300</text>
<text x="34.4" y="195.7" font-size="9" text-anchor="end" font-weight="bold" font-style="normal" fill="#111" stroke="#111" stroke-width="0.25">350</text>
<text x="37" y="334.1" font-size="9" text-anchor="middle" font-weight="bold" font-style="normal" fill="#111" stroke="#111" stroke-width="0.25">0</text>
<text x="77.75" y="334.1" font-size="9" text-anchor="middle" font-weight="bold" font-style="normal" fill="#111" stroke="#111" stroke-width="0.25">1</text>
<text x="118.5" y="334.1" font-size="9" text-anchor="middle" font-weight="bold" font-style="normal" fill="#111" stroke="#111" stroke-width="0.25">2</text>
<text x="159.25" y="334.1" font-size="9" text-anchor="middle" font-weight="bold" font-style="normal" fill="#111" stroke="#111" stroke-width="0.25">3</text>
<text x="200" y="334.1" font-size="9" text-anchor="middle" font-weight="bold" font-style="normal" fill="#111" stroke="#111" stroke-width="0.25">4</text>
<text x="114.6" y="347.5" font-size="9.5" text-anchor="middle" font-weight="bold" font-style="italic" fill="#111" stroke="#111" stroke-width="0.25">Time <tspan font-size="8.8" font-weight="normal" stroke="#111" stroke-width="0.3">(s)</tspan></text>
<text transform="translate(15,260) rotate(-90)" font-size="10" text-anchor="middle" font-weight="bold" font-style="italic" fill="#111" stroke="#111" stroke-width="0.2">Speed <tspan>(rad/s)</tspan></text>
<text x="106.3" y="363.8" font-size="9.6" text-anchor="middle" font-weight="bold" font-style="normal" fill="#111" stroke="#111" stroke-width="0.1">(c)</text>
<circle cx="117.9" cy="206.22" r="4.8" fill="none" stroke="#5b2d7d" stroke-width="1.1"/>
<line x1="114.39" y1="211.33" x2="106.15" y2="223.32" stroke="#6a4a7a" stroke-width="0.8"/>
<polygon points="101.9,229.5 103.92,221.79 108.37,224.85" fill="#8a0c98"/>
<rect x="79" y="233.5" width="52.5" height="33.5" fill="#fff"/>
<line x1="81.1" y1="233.5" x2="81.1" y2="267" stroke="#d8d8d8" stroke-width="0.5" stroke-dasharray="0.8 0.8"/>
<line x1="83.2" y1="233.5" x2="83.2" y2="267" stroke="#d8d8d8" stroke-width="0.5" stroke-dasharray="0.8 0.8"/>
<line x1="85.3" y1="233.5" x2="85.3" y2="267" stroke="#d8d8d8" stroke-width="0.5" stroke-dasharray="0.8 0.8"/>
<line x1="87.4" y1="233.5" x2="87.4" y2="267" stroke="#d8d8d8" stroke-width="0.5" stroke-dasharray="0.8 0.8"/>
<line x1="91.6" y1="233.5" x2="91.6" y2="267" stroke="#d8d8d8" stroke-width="0.5" stroke-dasharray="0.8 0.8"/>
<line x1="93.7" y1="233.5" x2="93.7" y2="267" stroke="#d8d8d8" stroke-width="0.5" stroke-dasharray="0.8 0.8"/>
<line x1="95.8" y1="233.5" x2="95.8" y2="267" stroke="#d8d8d8" stroke-width="0.5" stroke-dasharray="0.8 0.8"/>
<line x1="97.9" y1="233.5" x2="97.9" y2="267" stroke="#d8d8d8" stroke-width="0.5" stroke-dasharray="0.8 0.8"/>
<line x1="102.1" y1="233.5" x2="102.1" y2="267" stroke="#d8d8d8" stroke-width="0.5" stroke-dasharray="0.8 0.8"/>
<line x1="104.2" y1="233.5" x2="104.2" y2="267" stroke="#d8d8d8" stroke-width="0.5" stroke-dasharray="0.8 0.8"/>
<line x1="106.3" y1="233.5" x2="106.3" y2="267" stroke="#d8d8d8" stroke-width="0.5" stroke-dasharray="0.8 0.8"/>
<line x1="108.4" y1="233.5" x2="108.4" y2="267" stroke="#d8d8d8" stroke-width="0.5" stroke-dasharray="0.8 0.8"/>
<line x1="112.6" y1="233.5" x2="112.6" y2="267" stroke="#d8d8d8" stroke-width="0.5" stroke-dasharray="0.8 0.8"/>
<line x1="114.7" y1="233.5" x2="114.7" y2="267" stroke="#d8d8d8" stroke-width="0.5" stroke-dasharray="0.8 0.8"/>
<line x1="116.8" y1="233.5" x2="116.8" y2="267" stroke="#d8d8d8" stroke-width="0.5" stroke-dasharray="0.8 0.8"/>
<line x1="118.9" y1="233.5" x2="118.9" y2="267" stroke="#d8d8d8" stroke-width="0.5" stroke-dasharray="0.8 0.8"/>
<line x1="123.1" y1="233.5" x2="123.1" y2="267" stroke="#d8d8d8" stroke-width="0.5" stroke-dasharray="0.8 0.8"/>
<line x1="125.2" y1="233.5" x2="125.2" y2="267" stroke="#d8d8d8" stroke-width="0.5" stroke-dasharray="0.8 0.8"/>
<line x1="127.3" y1="233.5" x2="127.3" y2="267" stroke="#d8d8d8" stroke-width="0.5" stroke-dasharray="0.8 0.8"/>
<line x1="129.4" y1="233.5" x2="129.4" y2="267" stroke="#d8d8d8" stroke-width="0.5" stroke-dasharray="0.8 0.8"/>
<line x1="79" y1="264.77" x2="131.5" y2="264.77" stroke="#d8d8d8" stroke-width="0.5" stroke-dasharray="0.8 0.8"/>
<line x1="79" y1="262.53" x2="131.5" y2="262.53" stroke="#d8d8d8" stroke-width="0.5" stroke-dasharray="0.8 0.8"/>
<line x1="79" y1="260.3" x2="131.5" y2="260.3" stroke="#d8d8d8" stroke-width="0.5" stroke-dasharray="0.8 0.8"/>
<line x1="79" y1="258.07" x2="131.5" y2="258.07" stroke="#d8d8d8" stroke-width="0.5" stroke-dasharray="0.8 0.8"/>
<line x1="79" y1="255.83" x2="131.5" y2="255.83" stroke="#d8d8d8" stroke-width="0.5" stroke-dasharray="0.8 0.8"/>
<line x1="79" y1="253.6" x2="131.5" y2="253.6" stroke="#d8d8d8" stroke-width="0.5" stroke-dasharray="0.8 0.8"/>
<line x1="79" y1="251.37" x2="131.5" y2="251.37" stroke="#d8d8d8" stroke-width="0.5" stroke-dasharray="0.8 0.8"/>
<line x1="79" y1="249.13" x2="131.5" y2="249.13" stroke="#d8d8d8" stroke-width="0.5" stroke-dasharray="0.8 0.8"/>
<line x1="79" y1="246.9" x2="131.5" y2="246.9" stroke="#d8d8d8" stroke-width="0.5" stroke-dasharray="0.8 0.8"/>
<line x1="79" y1="244.67" x2="131.5" y2="244.67" stroke="#d8d8d8" stroke-width="0.5" stroke-dasharray="0.8 0.8"/>
<line x1="79" y1="242.43" x2="131.5" y2="242.43" stroke="#d8d8d8" stroke-width="0.5" stroke-dasharray="0.8 0.8"/>
<line x1="79" y1="240.2" x2="131.5" y2="240.2" stroke="#d8d8d8" stroke-width="0.5" stroke-dasharray="0.8 0.8"/>
<line x1="79" y1="237.97" x2="131.5" y2="237.97" stroke="#d8d8d8" stroke-width="0.5" stroke-dasharray="0.8 0.8"/>
<line x1="79" y1="235.73" x2="131.5" y2="235.73" stroke="#d8d8d8" stroke-width="0.5" stroke-dasharray="0.8 0.8"/>
<line x1="89.5" y1="233.5" x2="89.5" y2="267" stroke="#9a9a9a" stroke-width="0.6"/>
<line x1="100" y1="233.5" x2="100" y2="267" stroke="#9a9a9a" stroke-width="0.6"/>
<line x1="110.5" y1="233.5" x2="110.5" y2="267" stroke="#9a9a9a" stroke-width="0.6"/>
<line x1="121" y1="233.5" x2="121" y2="267" stroke="#9a9a9a" stroke-width="0.6"/>
<line x1="79" y1="255.83" x2="131.5" y2="255.83" stroke="#9a9a9a" stroke-width="0.6"/>
<line x1="79" y1="244.67" x2="131.5" y2="244.67" stroke="#9a9a9a" stroke-width="0.6"/>
<clipPath id="c714"><rect x="79" y="233.5" width="52.5" height="33.5"/></clipPath><g clip-path="url(#c714)">
<line x1="79" y1="263.43" x2="131.5" y2="263.43" stroke="#0e6c14" stroke-width="1.4" stroke-dasharray="5.8 1.8"/>
<polyline points="73.75,263.43 89.5,263.43 89.71,235.29 89.87,235.38 90.03,235.66 90.18,236.12 90.34,236.75 90.5,237.53 90.65,238.46 90.81,239.52 90.97,240.69 91.13,241.94 91.28,243.25 91.44,244.62 91.6,246 91.76,247.39 91.91,248.77 92.07,250.12 92.23,251.42 92.39,252.67 92.55,253.86 92.7,254.96 92.86,255.99 93.02,256.94 93.17,257.81 93.33,258.59 93.49,259.29 93.65,259.91 93.81,260.46 93.96,260.94 94.12,261.36 94.28,261.71 94.43,262.02 94.59,262.28 94.75,262.5 94.91,262.68 95.06,262.83 95.22,262.95 95.38,263.05 95.54,263.13 95.69,263.2 95.85,263.25 152.5,263.43" fill="none" stroke="#e3242b" stroke-width="1.5" stroke-linejoin="round"/>
<line x1="73.75" y1="263.43" x2="89.5" y2="263.43" stroke="#a8141e" stroke-width="1.5"/>
<line x1="96.01" y1="263.43" x2="152.5" y2="263.43" stroke="#a8141e" stroke-width="1.5"/>
</g>
<line x1="79" y1="233.5" x2="79" y2="236.5" stroke="#111" stroke-width="0.7"/>
<line x1="79" y1="267" x2="79" y2="264" stroke="#111" stroke-width="0.7"/>
<line x1="81.1" y1="233.5" x2="81.1" y2="235.7" stroke="#111" stroke-width="0.7"/>
<line x1="81.1" y1="267" x2="81.1" y2="264.8" stroke="#111" stroke-width="0.7"/>
<line x1="83.2" y1="233.5" x2="83.2" y2="235.7" stroke="#111" stroke-width="0.7"/>
<line x1="83.2" y1="267" x2="83.2" y2="264.8" stroke="#111" stroke-width="0.7"/>
<line x1="85.3" y1="233.5" x2="85.3" y2="235.7" stroke="#111" stroke-width="0.7"/>
<line x1="85.3" y1="267" x2="85.3" y2="264.8" stroke="#111" stroke-width="0.7"/>
<line x1="87.4" y1="233.5" x2="87.4" y2="235.7" stroke="#111" stroke-width="0.7"/>
<line x1="87.4" y1="267" x2="87.4" y2="264.8" stroke="#111" stroke-width="0.7"/>
<line x1="89.5" y1="233.5" x2="89.5" y2="236.5" stroke="#111" stroke-width="0.7"/>
<line x1="89.5" y1="267" x2="89.5" y2="264" stroke="#111" stroke-width="0.7"/>
<line x1="91.6" y1="233.5" x2="91.6" y2="235.7" stroke="#111" stroke-width="0.7"/>
<line x1="91.6" y1="267" x2="91.6" y2="264.8" stroke="#111" stroke-width="0.7"/>
<line x1="93.7" y1="233.5" x2="93.7" y2="235.7" stroke="#111" stroke-width="0.7"/>
<line x1="93.7" y1="267" x2="93.7" y2="264.8" stroke="#111" stroke-width="0.7"/>
<line x1="95.8" y1="233.5" x2="95.8" y2="235.7" stroke="#111" stroke-width="0.7"/>
<line x1="95.8" y1="267" x2="95.8" y2="264.8" stroke="#111" stroke-width="0.7"/>
<line x1="97.9" y1="233.5" x2="97.9" y2="235.7" stroke="#111" stroke-width="0.7"/>
<line x1="97.9" y1="267" x2="97.9" y2="264.8" stroke="#111" stroke-width="0.7"/>
<line x1="100" y1="233.5" x2="100" y2="236.5" stroke="#111" stroke-width="0.7"/>
<line x1="100" y1="267" x2="100" y2="264" stroke="#111" stroke-width="0.7"/>
<line x1="102.1" y1="233.5" x2="102.1" y2="235.7" stroke="#111" stroke-width="0.7"/>
<line x1="102.1" y1="267" x2="102.1" y2="264.8" stroke="#111" stroke-width="0.7"/>
<line x1="104.2" y1="233.5" x2="104.2" y2="235.7" stroke="#111" stroke-width="0.7"/>
<line x1="104.2" y1="267" x2="104.2" y2="264.8" stroke="#111" stroke-width="0.7"/>
<line x1="106.3" y1="233.5" x2="106.3" y2="235.7" stroke="#111" stroke-width="0.7"/>
<line x1="106.3" y1="267" x2="106.3" y2="264.8" stroke="#111" stroke-width="0.7"/>
<line x1="108.4" y1="233.5" x2="108.4" y2="235.7" stroke="#111" stroke-width="0.7"/>
<line x1="108.4" y1="267" x2="108.4" y2="264.8" stroke="#111" stroke-width="0.7"/>
<line x1="110.5" y1="233.5" x2="110.5" y2="236.5" stroke="#111" stroke-width="0.7"/>
<line x1="110.5" y1="267" x2="110.5" y2="264" stroke="#111" stroke-width="0.7"/>
<line x1="112.6" y1="233.5" x2="112.6" y2="235.7" stroke="#111" stroke-width="0.7"/>
<line x1="112.6" y1="267" x2="112.6" y2="264.8" stroke="#111" stroke-width="0.7"/>
<line x1="114.7" y1="233.5" x2="114.7" y2="235.7" stroke="#111" stroke-width="0.7"/>
<line x1="114.7" y1="267" x2="114.7" y2="264.8" stroke="#111" stroke-width="0.7"/>
<line x1="116.8" y1="233.5" x2="116.8" y2="235.7" stroke="#111" stroke-width="0.7"/>
<line x1="116.8" y1="267" x2="116.8" y2="264.8" stroke="#111" stroke-width="0.7"/>
<line x1="118.9" y1="233.5" x2="118.9" y2="235.7" stroke="#111" stroke-width="0.7"/>
<line x1="118.9" y1="267" x2="118.9" y2="264.8" stroke="#111" stroke-width="0.7"/>
<line x1="121" y1="233.5" x2="121" y2="236.5" stroke="#111" stroke-width="0.7"/>
<line x1="121" y1="267" x2="121" y2="264" stroke="#111" stroke-width="0.7"/>
<line x1="123.1" y1="233.5" x2="123.1" y2="235.7" stroke="#111" stroke-width="0.7"/>
<line x1="123.1" y1="267" x2="123.1" y2="264.8" stroke="#111" stroke-width="0.7"/>
<line x1="125.2" y1="233.5" x2="125.2" y2="235.7" stroke="#111" stroke-width="0.7"/>
<line x1="125.2" y1="267" x2="125.2" y2="264.8" stroke="#111" stroke-width="0.7"/>
<line x1="127.3" y1="233.5" x2="127.3" y2="235.7" stroke="#111" stroke-width="0.7"/>
<line x1="127.3" y1="267" x2="127.3" y2="264.8" stroke="#111" stroke-width="0.7"/>
<line x1="129.4" y1="233.5" x2="129.4" y2="235.7" stroke="#111" stroke-width="0.7"/>
<line x1="129.4" y1="267" x2="129.4" y2="264.8" stroke="#111" stroke-width="0.7"/>
<line x1="131.5" y1="233.5" x2="131.5" y2="236.5" stroke="#111" stroke-width="0.7"/>
<line x1="131.5" y1="267" x2="131.5" y2="264" stroke="#111" stroke-width="0.7"/>
<line x1="79" y1="267" x2="82" y2="267" stroke="#111" stroke-width="0.7"/>
<line x1="131.5" y1="267" x2="128.5" y2="267" stroke="#111" stroke-width="0.7"/>
<line x1="79" y1="264.77" x2="81.2" y2="264.77" stroke="#111" stroke-width="0.7"/>
<line x1="131.5" y1="264.77" x2="129.3" y2="264.77" stroke="#111" stroke-width="0.7"/>
<line x1="79" y1="262.53" x2="81.2" y2="262.53" stroke="#111" stroke-width="0.7"/>
<line x1="131.5" y1="262.53" x2="129.3" y2="262.53" stroke="#111" stroke-width="0.7"/>
<line x1="79" y1="260.3" x2="81.2" y2="260.3" stroke="#111" stroke-width="0.7"/>
<line x1="131.5" y1="260.3" x2="129.3" y2="260.3" stroke="#111" stroke-width="0.7"/>
<line x1="79" y1="258.07" x2="81.2" y2="258.07" stroke="#111" stroke-width="0.7"/>
<line x1="131.5" y1="258.07" x2="129.3" y2="258.07" stroke="#111" stroke-width="0.7"/>
<line x1="79" y1="255.83" x2="82" y2="255.83" stroke="#111" stroke-width="0.7"/>
<line x1="131.5" y1="255.83" x2="128.5" y2="255.83" stroke="#111" stroke-width="0.7"/>
<line x1="79" y1="253.6" x2="81.2" y2="253.6" stroke="#111" stroke-width="0.7"/>
<line x1="131.5" y1="253.6" x2="129.3" y2="253.6" stroke="#111" stroke-width="0.7"/>
<line x1="79" y1="251.37" x2="81.2" y2="251.37" stroke="#111" stroke-width="0.7"/>
<line x1="131.5" y1="251.37" x2="129.3" y2="251.37" stroke="#111" stroke-width="0.7"/>
<line x1="79" y1="249.13" x2="81.2" y2="249.13" stroke="#111" stroke-width="0.7"/>
<line x1="131.5" y1="249.13" x2="129.3" y2="249.13" stroke="#111" stroke-width="0.7"/>
<line x1="79" y1="246.9" x2="81.2" y2="246.9" stroke="#111" stroke-width="0.7"/>
<line x1="131.5" y1="246.9" x2="129.3" y2="246.9" stroke="#111" stroke-width="0.7"/>
<line x1="79" y1="244.67" x2="82" y2="244.67" stroke="#111" stroke-width="0.7"/>
<line x1="131.5" y1="244.67" x2="128.5" y2="244.67" stroke="#111" stroke-width="0.7"/>
<line x1="79" y1="242.43" x2="81.2" y2="242.43" stroke="#111" stroke-width="0.7"/>
<line x1="131.5" y1="242.43" x2="129.3" y2="242.43" stroke="#111" stroke-width="0.7"/>
<line x1="79" y1="240.2" x2="81.2" y2="240.2" stroke="#111" stroke-width="0.7"/>
<line x1="131.5" y1="240.2" x2="129.3" y2="240.2" stroke="#111" stroke-width="0.7"/>
<line x1="79" y1="237.97" x2="81.2" y2="237.97" stroke="#111" stroke-width="0.7"/>
<line x1="131.5" y1="237.97" x2="129.3" y2="237.97" stroke="#111" stroke-width="0.7"/>
<line x1="79" y1="235.73" x2="81.2" y2="235.73" stroke="#111" stroke-width="0.7"/>
<line x1="131.5" y1="235.73" x2="129.3" y2="235.73" stroke="#111" stroke-width="0.7"/>
<line x1="79" y1="233.5" x2="82" y2="233.5" stroke="#111" stroke-width="0.7"/>
<line x1="131.5" y1="233.5" x2="128.5" y2="233.5" stroke="#111" stroke-width="0.7"/>
<rect x="79" y="233.5" width="52.5" height="33.5" fill="none" stroke="#1a1a1a" stroke-width="1.4"/>
<text x="77.4" y="269.7" font-size="7.5" text-anchor="end" font-weight="normal" font-style="normal" fill="#111" stroke="#222" stroke-width="0.15">314</text>
<text x="77.4" y="258.53" font-size="7.5" text-anchor="end" font-weight="normal" font-style="normal" fill="#111" stroke="#222" stroke-width="0.15">314.5</text>
<text x="77.4" y="247.37" font-size="7.5" text-anchor="end" font-weight="normal" font-style="normal" fill="#111" stroke="#222" stroke-width="0.15">315</text>
<text x="77.4" y="236.2" font-size="7.5" text-anchor="end" font-weight="normal" font-style="normal" fill="#111" stroke="#222" stroke-width="0.15">315.5</text>
<text x="79" y="275.7" font-size="7.5" text-anchor="middle" font-weight="normal" font-style="normal" fill="#111" stroke="#222" stroke-width="0.15">1.9</text>
<text x="89.5" y="275.7" font-size="7.5" text-anchor="middle" font-weight="normal" font-style="normal" fill="#111" stroke="#222" stroke-width="0.15">2</text>
<text x="99.6" y="275.7" font-size="7.5" text-anchor="middle" font-weight="normal" font-style="normal" fill="#111" stroke="#222" stroke-width="0.15">2.1</text>
<text x="109.2" y="275.7" font-size="7.5" text-anchor="middle" font-weight="normal" font-style="normal" fill="#111" stroke="#222" stroke-width="0.15">2.2</text>
<text x="119.3" y="275.7" font-size="7.5" text-anchor="middle" font-weight="normal" font-style="normal" fill="#111" stroke="#222" stroke-width="0.15">2.3</text>
<rect x="75.2" y="291" width="85.2" height="24.3" fill="#fff" stroke="#333" stroke-width="1.35" rx="0.6"/>
<line x1="83.7" y1="299.02" x2="109.2" y2="299.02" stroke="#e8585e" stroke-width="1.7"/>
<line x1="83.7" y1="307.04" x2="109.2" y2="307.04" stroke="#0e6c14" stroke-width="1.5" stroke-dasharray="5.5 1.8"/>
<text x="116.7" y="302.02" font-size="6.8" font-weight="bold" fill="#111" stroke="#111" stroke-width="0.2">&#969;<tspan font-size="4.4" dy="1.2">r</tspan></text>
<text x="125.7" y="302.02" font-size="6.7" font-weight="bold" font-style="italic" fill="#222" stroke="#222" stroke-width="0.12">(rad/s)</text>
<text x="116.7" y="310.04" font-size="6.8" font-weight="bold" fill="#111" stroke="#111" stroke-width="0.2">&#969;<tspan font-size="4.4" dy="1.2">e</tspan></text>
<text x="125.7" y="310.04" font-size="6.7" font-weight="bold" font-style="italic" fill="#222" stroke="#222" stroke-width="0.12">(rad/s)</text>
<line x1="244.5" y1="192.8" x2="244.5" y2="322.7" stroke="#f1f1f1" stroke-width="1"/>
<line x1="252.5" y1="192.8" x2="252.5" y2="322.7" stroke="#f1f1f1" stroke-width="1"/>
<line x1="260.5" y1="192.8" x2="260.5" y2="322.7" stroke="#f1f1f1" stroke-width="1"/>
<line x1="269.5" y1="192.8" x2="269.5" y2="322.7" stroke="#f1f1f1" stroke-width="1"/>
<line x1="285.5" y1="192.8" x2="285.5" y2="322.7" stroke="#f1f1f1" stroke-width="1"/>
<line x1="293.5" y1="192.8" x2="293.5" y2="322.7" stroke="#f1f1f1" stroke-width="1"/>
<line x1="301.5" y1="192.8" x2="301.5" y2="322.7" stroke="#f1f1f1" stroke-width="1"/>
<line x1="309.5" y1="192.8" x2="309.5" y2="322.7" stroke="#f1f1f1" stroke-width="1"/>
<line x1="326.5" y1="192.8" x2="326.5" y2="322.7" stroke="#f1f1f1" stroke-width="1"/>
<line x1="334.5" y1="192.8" x2="334.5" y2="322.7" stroke="#f1f1f1" stroke-width="1"/>
<line x1="342.5" y1="192.8" x2="342.5" y2="322.7" stroke="#f1f1f1" stroke-width="1"/>
<line x1="350.5" y1="192.8" x2="350.5" y2="322.7" stroke="#f1f1f1" stroke-width="1"/>
<line x1="367.5" y1="192.8" x2="367.5" y2="322.7" stroke="#f1f1f1" stroke-width="1"/>
<line x1="375.5" y1="192.8" x2="375.5" y2="322.7" stroke="#f1f1f1" stroke-width="1"/>
<line x1="383.5" y1="192.8" x2="383.5" y2="322.7" stroke="#f1f1f1" stroke-width="1"/>
<line x1="391.5" y1="192.8" x2="391.5" y2="322.7" stroke="#f1f1f1" stroke-width="1"/>
<line x1="236.3" y1="313.5" x2="400" y2="313.5" stroke="#f1f1f1" stroke-width="1"/>
<line x1="236.3" y1="294.5" x2="400" y2="294.5" stroke="#f1f1f1" stroke-width="1"/>
<line x1="236.3" y1="276.5" x2="400" y2="276.5" stroke="#f1f1f1" stroke-width="1"/>
<line x1="236.3" y1="257.5" x2="400" y2="257.5" stroke="#f1f1f1" stroke-width="1"/>
<line x1="236.3" y1="239.5" x2="400" y2="239.5" stroke="#f1f1f1" stroke-width="1"/>
<line x1="236.3" y1="220.5" x2="400" y2="220.5" stroke="#f1f1f1" stroke-width="1"/>
<line x1="236.3" y1="202.5" x2="400" y2="202.5" stroke="#f1f1f1" stroke-width="1"/>
<line x1="277.5" y1="192.8" x2="277.5" y2="322.7" stroke="#bcbcbc" stroke-width="1"/>
<line x1="318.5" y1="192.8" x2="318.5" y2="322.7" stroke="#bcbcbc" stroke-width="1"/>
<line x1="359.5" y1="192.8" x2="359.5" y2="322.7" stroke="#bcbcbc" stroke-width="1"/>
<line x1="236.3" y1="304.5" x2="400" y2="304.5" stroke="#bcbcbc" stroke-width="1"/>
<line x1="236.3" y1="285.5" x2="400" y2="285.5" stroke="#bcbcbc" stroke-width="1"/>
<line x1="236.3" y1="267.5" x2="400" y2="267.5" stroke="#bcbcbc" stroke-width="1"/>
<line x1="236.3" y1="248.5" x2="400" y2="248.5" stroke="#bcbcbc" stroke-width="1"/>
<line x1="236.3" y1="229.5" x2="400" y2="229.5" stroke="#bcbcbc" stroke-width="1"/>
<line x1="236.3" y1="211.5" x2="400" y2="211.5" stroke="#bcbcbc" stroke-width="1"/>
<polyline points="236.3,322.7 262.41,206.1 400,206.1" fill="none" stroke="#cc2426" stroke-width="1.7" stroke-linejoin="round"/>
<polyline points="236.3,322.7 262.41,206.1 400,206.1" fill="none" stroke="#901616" stroke-width="1.1" stroke-dasharray="5.2 1.6" transform="translate(-0.2,-0.3)" stroke-linejoin="round"/>
<line x1="236.3" y1="322.7" x2="236.3" y2="319.1" stroke="#444" stroke-width="0.8"/>
<line x1="236.3" y1="192.8" x2="236.3" y2="196.4" stroke="#444" stroke-width="0.8"/>
<line x1="244.49" y1="322.7" x2="244.49" y2="320.3" stroke="#444" stroke-width="0.8"/>
<line x1="244.49" y1="192.8" x2="244.49" y2="195.2" stroke="#444" stroke-width="0.8"/>
<line x1="252.67" y1="322.7" x2="252.67" y2="320.3" stroke="#444" stroke-width="0.8"/>
<line x1="252.67" y1="192.8" x2="252.67" y2="195.2" stroke="#444" stroke-width="0.8"/>
<line x1="260.86" y1="322.7" x2="260.86" y2="320.3" stroke="#444" stroke-width="0.8"/>
<line x1="260.86" y1="192.8" x2="260.86" y2="195.2" stroke="#444" stroke-width="0.8"/>
<line x1="269.04" y1="322.7" x2="269.04" y2="320.3" stroke="#444" stroke-width="0.8"/>
<line x1="269.04" y1="192.8" x2="269.04" y2="195.2" stroke="#444" stroke-width="0.8"/>
<line x1="277.23" y1="322.7" x2="277.23" y2="319.1" stroke="#444" stroke-width="0.8"/>
<line x1="277.23" y1="192.8" x2="277.23" y2="196.4" stroke="#444" stroke-width="0.8"/>
<line x1="285.41" y1="322.7" x2="285.41" y2="320.3" stroke="#444" stroke-width="0.8"/>
<line x1="285.41" y1="192.8" x2="285.41" y2="195.2" stroke="#444" stroke-width="0.8"/>
<line x1="293.6" y1="322.7" x2="293.6" y2="320.3" stroke="#444" stroke-width="0.8"/>
<line x1="293.6" y1="192.8" x2="293.6" y2="195.2" stroke="#444" stroke-width="0.8"/>
<line x1="301.78" y1="322.7" x2="301.78" y2="320.3" stroke="#444" stroke-width="0.8"/>
<line x1="301.78" y1="192.8" x2="301.78" y2="195.2" stroke="#444" stroke-width="0.8"/>
<line x1="309.97" y1="322.7" x2="309.97" y2="320.3" stroke="#444" stroke-width="0.8"/>
<line x1="309.97" y1="192.8" x2="309.97" y2="195.2" stroke="#444" stroke-width="0.8"/>
<line x1="318.15" y1="322.7" x2="318.15" y2="319.1" stroke="#444" stroke-width="0.8"/>
<line x1="318.15" y1="192.8" x2="318.15" y2="196.4" stroke="#444" stroke-width="0.8"/>
<line x1="326.34" y1="322.7" x2="326.34" y2="320.3" stroke="#444" stroke-width="0.8"/>
<line x1="326.34" y1="192.8" x2="326.34" y2="195.2" stroke="#444" stroke-width="0.8"/>
<line x1="334.52" y1="322.7" x2="334.52" y2="320.3" stroke="#444" stroke-width="0.8"/>
<line x1="334.52" y1="192.8" x2="334.52" y2="195.2" stroke="#444" stroke-width="0.8"/>
<line x1="342.71" y1="322.7" x2="342.71" y2="320.3" stroke="#444" stroke-width="0.8"/>
<line x1="342.71" y1="192.8" x2="342.71" y2="195.2" stroke="#444" stroke-width="0.8"/>
<line x1="350.89" y1="322.7" x2="350.89" y2="320.3" stroke="#444" stroke-width="0.8"/>
<line x1="350.89" y1="192.8" x2="350.89" y2="195.2" stroke="#444" stroke-width="0.8"/>
<line x1="359.07" y1="322.7" x2="359.07" y2="319.1" stroke="#444" stroke-width="0.8"/>
<line x1="359.07" y1="192.8" x2="359.07" y2="196.4" stroke="#444" stroke-width="0.8"/>
<line x1="367.26" y1="322.7" x2="367.26" y2="320.3" stroke="#444" stroke-width="0.8"/>
<line x1="367.26" y1="192.8" x2="367.26" y2="195.2" stroke="#444" stroke-width="0.8"/>
<line x1="375.45" y1="322.7" x2="375.45" y2="320.3" stroke="#444" stroke-width="0.8"/>
<line x1="375.45" y1="192.8" x2="375.45" y2="195.2" stroke="#444" stroke-width="0.8"/>
<line x1="383.63" y1="322.7" x2="383.63" y2="320.3" stroke="#444" stroke-width="0.8"/>
<line x1="383.63" y1="192.8" x2="383.63" y2="195.2" stroke="#444" stroke-width="0.8"/>
<line x1="391.81" y1="322.7" x2="391.81" y2="320.3" stroke="#444" stroke-width="0.8"/>
<line x1="391.81" y1="192.8" x2="391.81" y2="195.2" stroke="#444" stroke-width="0.8"/>
<line x1="400" y1="322.7" x2="400" y2="319.1" stroke="#444" stroke-width="0.8"/>
<line x1="400" y1="192.8" x2="400" y2="196.4" stroke="#444" stroke-width="0.8"/>
<line x1="236.3" y1="322.7" x2="240.5" y2="322.7" stroke="#444" stroke-width="0.9"/>
<line x1="400" y1="322.7" x2="395.8" y2="322.7" stroke="#444" stroke-width="0.9"/>
<line x1="236.3" y1="313.42" x2="238.7" y2="313.42" stroke="#444" stroke-width="0.9"/>
<line x1="400" y1="313.42" x2="397.6" y2="313.42" stroke="#444" stroke-width="0.9"/>
<line x1="236.3" y1="304.14" x2="240.5" y2="304.14" stroke="#444" stroke-width="0.9"/>
<line x1="400" y1="304.14" x2="395.8" y2="304.14" stroke="#444" stroke-width="0.9"/>
<line x1="236.3" y1="294.86" x2="238.7" y2="294.86" stroke="#444" stroke-width="0.9"/>
<line x1="400" y1="294.86" x2="397.6" y2="294.86" stroke="#444" stroke-width="0.9"/>
<line x1="236.3" y1="285.59" x2="240.5" y2="285.59" stroke="#444" stroke-width="0.9"/>
<line x1="400" y1="285.59" x2="395.8" y2="285.59" stroke="#444" stroke-width="0.9"/>
<line x1="236.3" y1="276.31" x2="238.7" y2="276.31" stroke="#444" stroke-width="0.9"/>
<line x1="400" y1="276.31" x2="397.6" y2="276.31" stroke="#444" stroke-width="0.9"/>
<line x1="236.3" y1="267.03" x2="240.5" y2="267.03" stroke="#444" stroke-width="0.9"/>
<line x1="400" y1="267.03" x2="395.8" y2="267.03" stroke="#444" stroke-width="0.9"/>
<line x1="236.3" y1="257.75" x2="238.7" y2="257.75" stroke="#444" stroke-width="0.9"/>
<line x1="400" y1="257.75" x2="397.6" y2="257.75" stroke="#444" stroke-width="0.9"/>
<line x1="236.3" y1="248.47" x2="240.5" y2="248.47" stroke="#444" stroke-width="0.9"/>
<line x1="400" y1="248.47" x2="395.8" y2="248.47" stroke="#444" stroke-width="0.9"/>
<line x1="236.3" y1="239.19" x2="238.7" y2="239.19" stroke="#444" stroke-width="0.9"/>
<line x1="400" y1="239.19" x2="397.6" y2="239.19" stroke="#444" stroke-width="0.9"/>
<line x1="236.3" y1="229.91" x2="240.5" y2="229.91" stroke="#444" stroke-width="0.9"/>
<line x1="400" y1="229.91" x2="395.8" y2="229.91" stroke="#444" stroke-width="0.9"/>
<line x1="236.3" y1="220.64" x2="238.7" y2="220.64" stroke="#444" stroke-width="0.9"/>
<line x1="400" y1="220.64" x2="397.6" y2="220.64" stroke="#444" stroke-width="0.9"/>
<line x1="236.3" y1="211.36" x2="240.5" y2="211.36" stroke="#444" stroke-width="0.9"/>
<line x1="400" y1="211.36" x2="395.8" y2="211.36" stroke="#444" stroke-width="0.9"/>
<line x1="236.3" y1="202.08" x2="238.7" y2="202.08" stroke="#444" stroke-width="0.9"/>
<line x1="400" y1="202.08" x2="397.6" y2="202.08" stroke="#444" stroke-width="0.9"/>
<line x1="236.3" y1="192.8" x2="240.5" y2="192.8" stroke="#444" stroke-width="0.9"/>
<line x1="400" y1="192.8" x2="395.8" y2="192.8" stroke="#444" stroke-width="0.9"/>
<rect x="236.3" y="192.8" width="163.7" height="129.9" fill="none" stroke="#000" stroke-width="1.9" rx="0.8"/>
<text x="233.7" y="325.9" font-size="9" text-anchor="end" font-weight="bold" font-style="normal" fill="#111" stroke="#111" stroke-width="0.25">0</text>
<text x="233.7" y="307.34" font-size="9" text-anchor="end" font-weight="bold" font-style="normal" fill="#111" stroke="#111" stroke-width="0.25">50</text>
<text x="233.7" y="288.79" font-size="9" text-anchor="end" font-weight="bold" font-style="normal" fill="#111" stroke="#111" stroke-width="0.25">100</text>
<text x="233.7" y="270.23" font-size="9" text-anchor="end" font-weight="bold" font-style="normal" fill="#111" stroke="#111" stroke-width="0.25">150</text>
<text x="233.7" y="251.67" font-size="9" text-anchor="end" font-weight="bold" font-style="normal" fill="#111" stroke="#111" stroke-width="0.25">200</text>
<text x="233.7" y="233.11" font-size="9" text-anchor="end" font-weight="bold" font-style="normal" fill="#111" stroke="#111" stroke-width="0.25">250</text>
<text x="233.7" y="214.56" font-size="9" text-anchor="end" font-weight="bold" font-style="normal" fill="#111" stroke="#111" stroke-width="0.25">300</text>
<text x="233.7" y="196" font-size="9" text-anchor="end" font-weight="bold" font-style="normal" fill="#111" stroke="#111" stroke-width="0.25">350</text>
<text x="236.3" y="334.2" font-size="9" text-anchor="middle" font-weight="bold" font-style="normal" fill="#111" stroke="#111" stroke-width="0.25">0</text>
<text x="277.23" y="334.2" font-size="9" text-anchor="middle" font-weight="bold" font-style="normal" fill="#111" stroke="#111" stroke-width="0.25">1</text>
<text x="318.15" y="334.2" font-size="9" text-anchor="middle" font-weight="bold" font-style="normal" fill="#111" stroke="#111" stroke-width="0.25">2</text>
<text x="359.07" y="334.2" font-size="9" text-anchor="middle" font-weight="bold" font-style="normal" fill="#111" stroke="#111" stroke-width="0.25">3</text>
<text x="400" y="334.2" font-size="9" text-anchor="middle" font-weight="bold" font-style="normal" fill="#111" stroke="#111" stroke-width="0.25">4</text>
<text x="314" y="347.8" font-size="9.5" text-anchor="middle" font-weight="bold" font-style="italic" fill="#111" stroke="#111" stroke-width="0.25">Time <tspan font-size="8.8" font-weight="normal" stroke="#111" stroke-width="0.3">(s)</tspan></text>
<text transform="translate(214.5,260.5) rotate(-90)" font-size="10" text-anchor="middle" font-weight="bold" font-style="italic" fill="#111" stroke="#111" stroke-width="0.2">Speed <tspan>(rad/s)</tspan></text>
<text x="305.5" y="363.8" font-size="9.6" text-anchor="middle" font-weight="bold" font-style="normal" fill="#111" stroke="#111" stroke-width="0.1">(d)</text>
<circle cx="317.55" cy="206.5" r="4.8" fill="none" stroke="#5b2d7d" stroke-width="1.1"/>
<line x1="313.78" y1="211.42" x2="304.47" y2="223.55" stroke="#6a4a7a" stroke-width="0.8"/>
<polygon points="299.9,229.5 302.32,221.91 306.61,225.19" fill="#8a0c98"/>
<rect x="278.4" y="234.1" width="52.6" height="38.9" fill="#fff"/>
<line x1="280.5" y1="234.1" x2="280.5" y2="273" stroke="#d8d8d8" stroke-width="0.5" stroke-dasharray="0.8 0.8"/>
<line x1="282.6" y1="234.1" x2="282.6" y2="273" stroke="#d8d8d8" stroke-width="0.5" stroke-dasharray="0.8 0.8"/>
<line x1="284.7" y1="234.1" x2="284.7" y2="273" stroke="#d8d8d8" stroke-width="0.5" stroke-dasharray="0.8 0.8"/>
<line x1="286.8" y1="234.1" x2="286.8" y2="273" stroke="#d8d8d8" stroke-width="0.5" stroke-dasharray="0.8 0.8"/>
<line x1="291" y1="234.1" x2="291" y2="273" stroke="#d8d8d8" stroke-width="0.5" stroke-dasharray="0.8 0.8"/>
<line x1="293.1" y1="234.1" x2="293.1" y2="273" stroke="#d8d8d8" stroke-width="0.5" stroke-dasharray="0.8 0.8"/>
<line x1="295.2" y1="234.1" x2="295.2" y2="273" stroke="#d8d8d8" stroke-width="0.5" stroke-dasharray="0.8 0.8"/>
<line x1="297.3" y1="234.1" x2="297.3" y2="273" stroke="#d8d8d8" stroke-width="0.5" stroke-dasharray="0.8 0.8"/>
<line x1="301.5" y1="234.1" x2="301.5" y2="273" stroke="#d8d8d8" stroke-width="0.5" stroke-dasharray="0.8 0.8"/>
<line x1="303.6" y1="234.1" x2="303.6" y2="273" stroke="#d8d8d8" stroke-width="0.5" stroke-dasharray="0.8 0.8"/>
<line x1="305.7" y1="234.1" x2="305.7" y2="273" stroke="#d8d8d8" stroke-width="0.5" stroke-dasharray="0.8 0.8"/>
<line x1="307.8" y1="234.1" x2="307.8" y2="273" stroke="#d8d8d8" stroke-width="0.5" stroke-dasharray="0.8 0.8"/>
<line x1="312" y1="234.1" x2="312" y2="273" stroke="#d8d8d8" stroke-width="0.5" stroke-dasharray="0.8 0.8"/>
<line x1="314.1" y1="234.1" x2="314.1" y2="273" stroke="#d8d8d8" stroke-width="0.5" stroke-dasharray="0.8 0.8"/>
<line x1="316.2" y1="234.1" x2="316.2" y2="273" stroke="#d8d8d8" stroke-width="0.5" stroke-dasharray="0.8 0.8"/>
<line x1="318.3" y1="234.1" x2="318.3" y2="273" stroke="#d8d8d8" stroke-width="0.5" stroke-dasharray="0.8 0.8"/>
<line x1="322.5" y1="234.1" x2="322.5" y2="273" stroke="#d8d8d8" stroke-width="0.5" stroke-dasharray="0.8 0.8"/>
<line x1="324.6" y1="234.1" x2="324.6" y2="273" stroke="#d8d8d8" stroke-width="0.5" stroke-dasharray="0.8 0.8"/>
<line x1="326.7" y1="234.1" x2="326.7" y2="273" stroke="#d8d8d8" stroke-width="0.5" stroke-dasharray="0.8 0.8"/>
<line x1="328.8" y1="234.1" x2="328.8" y2="273" stroke="#d8d8d8" stroke-width="0.5" stroke-dasharray="0.8 0.8"/>
<line x1="278.4" y1="270.78" x2="331" y2="270.78" stroke="#d8d8d8" stroke-width="0.5" stroke-dasharray="0.8 0.8"/>
<line x1="278.4" y1="268.55" x2="331" y2="268.55" stroke="#d8d8d8" stroke-width="0.5" stroke-dasharray="0.8 0.8"/>
<line x1="278.4" y1="266.33" x2="331" y2="266.33" stroke="#d8d8d8" stroke-width="0.5" stroke-dasharray="0.8 0.8"/>
<line x1="278.4" y1="264.11" x2="331" y2="264.11" stroke="#d8d8d8" stroke-width="0.5" stroke-dasharray="0.8 0.8"/>
<line x1="278.4" y1="261.89" x2="331" y2="261.89" stroke="#d8d8d8" stroke-width="0.5" stroke-dasharray="0.8 0.8"/>
<line x1="278.4" y1="259.66" x2="331" y2="259.66" stroke="#d8d8d8" stroke-width="0.5" stroke-dasharray="0.8 0.8"/>
<line x1="278.4" y1="257.44" x2="331" y2="257.44" stroke="#d8d8d8" stroke-width="0.5" stroke-dasharray="0.8 0.8"/>
<line x1="278.4" y1="255.22" x2="331" y2="255.22" stroke="#d8d8d8" stroke-width="0.5" stroke-dasharray="0.8 0.8"/>
<line x1="278.4" y1="252.99" x2="331" y2="252.99" stroke="#d8d8d8" stroke-width="0.5" stroke-dasharray="0.8 0.8"/>
<line x1="278.4" y1="250.77" x2="331" y2="250.77" stroke="#d8d8d8" stroke-width="0.5" stroke-dasharray="0.8 0.8"/>
<line x1="278.4" y1="248.55" x2="331" y2="248.55" stroke="#d8d8d8" stroke-width="0.5" stroke-dasharray="0.8 0.8"/>
<line x1="278.4" y1="246.33" x2="331" y2="246.33" stroke="#d8d8d8" stroke-width="0.5" stroke-dasharray="0.8 0.8"/>
<line x1="278.4" y1="244.1" x2="331" y2="244.1" stroke="#d8d8d8" stroke-width="0.5" stroke-dasharray="0.8 0.8"/>
<line x1="278.4" y1="241.88" x2="331" y2="241.88" stroke="#d8d8d8" stroke-width="0.5" stroke-dasharray="0.8 0.8"/>
<line x1="278.4" y1="239.66" x2="331" y2="239.66" stroke="#d8d8d8" stroke-width="0.5" stroke-dasharray="0.8 0.8"/>
<line x1="278.4" y1="237.43" x2="331" y2="237.43" stroke="#d8d8d8" stroke-width="0.5" stroke-dasharray="0.8 0.8"/>
<line x1="278.4" y1="235.21" x2="331" y2="235.21" stroke="#d8d8d8" stroke-width="0.5" stroke-dasharray="0.8 0.8"/>
<line x1="288.9" y1="234.1" x2="288.9" y2="273" stroke="#9a9a9a" stroke-width="0.6"/>
<line x1="299.4" y1="234.1" x2="299.4" y2="273" stroke="#9a9a9a" stroke-width="0.6"/>
<line x1="309.9" y1="234.1" x2="309.9" y2="273" stroke="#9a9a9a" stroke-width="0.6"/>
<line x1="320.4" y1="234.1" x2="320.4" y2="273" stroke="#9a9a9a" stroke-width="0.6"/>
<line x1="278.4" y1="261.89" x2="331" y2="261.89" stroke="#9a9a9a" stroke-width="0.6"/>
<line x1="278.4" y1="250.77" x2="331" y2="250.77" stroke="#9a9a9a" stroke-width="0.6"/>
<clipPath id="c991"><rect x="278.4" y="234.1" width="52.6" height="38.9"/></clipPath><g clip-path="url(#c991)">
<line x1="278.4" y1="237.88" x2="331" y2="237.88" stroke="#0e6c14" stroke-width="1.4" stroke-dasharray="5.8 1.8"/>
<polyline points="273.15,237.88 288.9,237.88 289.74,269.44 289.9,267.82 290.06,265.51 290.21,262.97 290.37,260.41 290.53,257.91 290.69,255.54 290.84,253.33 291,251.32 291.16,249.49 291.31,247.86 291.47,246.41 291.63,245.13 291.79,244.02 291.94,243.06 292.1,242.22 292.26,241.51 292.42,240.9 292.57,240.39 292.73,239.95 292.89,239.59 293.05,239.28 293.2,239.03 293.36,238.82 293.52,238.64 293.68,238.5 293.83,238.38 293.99,238.28 294.15,238.2 294.31,238.14 294.46,238.09 294.62,238.05 294.78,238.01 294.94,237.98 295.1,237.96 295.25,237.94 295.41,237.93 295.57,237.92 295.72,237.91 295.88,237.9 351.9,237.88" fill="none" stroke="#e3242b" stroke-width="1.5" stroke-linejoin="round"/>
<line x1="273.15" y1="237.88" x2="288.9" y2="237.88" stroke="#a8141e" stroke-width="1.5"/>
<line x1="294.68" y1="237.88" x2="351.9" y2="237.88" stroke="#a8141e" stroke-width="1.5"/>
</g>
<line x1="278.4" y1="234.1" x2="278.4" y2="237.1" stroke="#111" stroke-width="0.7"/>
<line x1="278.4" y1="273" x2="278.4" y2="270" stroke="#111" stroke-width="0.7"/>
<line x1="280.5" y1="234.1" x2="280.5" y2="236.3" stroke="#111" stroke-width="0.7"/>
<line x1="280.5" y1="273" x2="280.5" y2="270.8" stroke="#111" stroke-width="0.7"/>
<line x1="282.6" y1="234.1" x2="282.6" y2="236.3" stroke="#111" stroke-width="0.7"/>
<line x1="282.6" y1="273" x2="282.6" y2="270.8" stroke="#111" stroke-width="0.7"/>
<line x1="284.7" y1="234.1" x2="284.7" y2="236.3" stroke="#111" stroke-width="0.7"/>
<line x1="284.7" y1="273" x2="284.7" y2="270.8" stroke="#111" stroke-width="0.7"/>
<line x1="286.8" y1="234.1" x2="286.8" y2="236.3" stroke="#111" stroke-width="0.7"/>
<line x1="286.8" y1="273" x2="286.8" y2="270.8" stroke="#111" stroke-width="0.7"/>
<line x1="288.9" y1="234.1" x2="288.9" y2="237.1" stroke="#111" stroke-width="0.7"/>
<line x1="288.9" y1="273" x2="288.9" y2="270" stroke="#111" stroke-width="0.7"/>
<line x1="291" y1="234.1" x2="291" y2="236.3" stroke="#111" stroke-width="0.7"/>
<line x1="291" y1="273" x2="291" y2="270.8" stroke="#111" stroke-width="0.7"/>
<line x1="293.1" y1="234.1" x2="293.1" y2="236.3" stroke="#111" stroke-width="0.7"/>
<line x1="293.1" y1="273" x2="293.1" y2="270.8" stroke="#111" stroke-width="0.7"/>
<line x1="295.2" y1="234.1" x2="295.2" y2="236.3" stroke="#111" stroke-width="0.7"/>
<line x1="295.2" y1="273" x2="295.2" y2="270.8" stroke="#111" stroke-width="0.7"/>
<line x1="297.3" y1="234.1" x2="297.3" y2="236.3" stroke="#111" stroke-width="0.7"/>
<line x1="297.3" y1="273" x2="297.3" y2="270.8" stroke="#111" stroke-width="0.7"/>
<line x1="299.4" y1="234.1" x2="299.4" y2="237.1" stroke="#111" stroke-width="0.7"/>
<line x1="299.4" y1="273" x2="299.4" y2="270" stroke="#111" stroke-width="0.7"/>
<line x1="301.5" y1="234.1" x2="301.5" y2="236.3" stroke="#111" stroke-width="0.7"/>
<line x1="301.5" y1="273" x2="301.5" y2="270.8" stroke="#111" stroke-width="0.7"/>
<line x1="303.6" y1="234.1" x2="303.6" y2="236.3" stroke="#111" stroke-width="0.7"/>
<line x1="303.6" y1="273" x2="303.6" y2="270.8" stroke="#111" stroke-width="0.7"/>
<line x1="305.7" y1="234.1" x2="305.7" y2="236.3" stroke="#111" stroke-width="0.7"/>
<line x1="305.7" y1="273" x2="305.7" y2="270.8" stroke="#111" stroke-width="0.7"/>
<line x1="307.8" y1="234.1" x2="307.8" y2="236.3" stroke="#111" stroke-width="0.7"/>
<line x1="307.8" y1="273" x2="307.8" y2="270.8" stroke="#111" stroke-width="0.7"/>
<line x1="309.9" y1="234.1" x2="309.9" y2="237.1" stroke="#111" stroke-width="0.7"/>
<line x1="309.9" y1="273" x2="309.9" y2="270" stroke="#111" stroke-width="0.7"/>
<line x1="312" y1="234.1" x2="312" y2="236.3" stroke="#111" stroke-width="0.7"/>
<line x1="312" y1="273" x2="312" y2="270.8" stroke="#111" stroke-width="0.7"/>
<line x1="314.1" y1="234.1" x2="314.1" y2="236.3" stroke="#111" stroke-width="0.7"/>
<line x1="314.1" y1="273" x2="314.1" y2="270.8" stroke="#111" stroke-width="0.7"/>
<line x1="316.2" y1="234.1" x2="316.2" y2="236.3" stroke="#111" stroke-width="0.7"/>
<line x1="316.2" y1="273" x2="316.2" y2="270.8" stroke="#111" stroke-width="0.7"/>
<line x1="318.3" y1="234.1" x2="318.3" y2="236.3" stroke="#111" stroke-width="0.7"/>
<line x1="318.3" y1="273" x2="318.3" y2="270.8" stroke="#111" stroke-width="0.7"/>
<line x1="320.4" y1="234.1" x2="320.4" y2="237.1" stroke="#111" stroke-width="0.7"/>
<line x1="320.4" y1="273" x2="320.4" y2="270" stroke="#111" stroke-width="0.7"/>
<line x1="322.5" y1="234.1" x2="322.5" y2="236.3" stroke="#111" stroke-width="0.7"/>
<line x1="322.5" y1="273" x2="322.5" y2="270.8" stroke="#111" stroke-width="0.7"/>
<line x1="324.6" y1="234.1" x2="324.6" y2="236.3" stroke="#111" stroke-width="0.7"/>
<line x1="324.6" y1="273" x2="324.6" y2="270.8" stroke="#111" stroke-width="0.7"/>
<line x1="326.7" y1="234.1" x2="326.7" y2="236.3" stroke="#111" stroke-width="0.7"/>
<line x1="326.7" y1="273" x2="326.7" y2="270.8" stroke="#111" stroke-width="0.7"/>
<line x1="328.8" y1="234.1" x2="328.8" y2="236.3" stroke="#111" stroke-width="0.7"/>
<line x1="328.8" y1="273" x2="328.8" y2="270.8" stroke="#111" stroke-width="0.7"/>
<line x1="330.9" y1="234.1" x2="330.9" y2="237.1" stroke="#111" stroke-width="0.7"/>
<line x1="330.9" y1="273" x2="330.9" y2="270" stroke="#111" stroke-width="0.7"/>
<line x1="278.4" y1="273" x2="281.4" y2="273" stroke="#111" stroke-width="0.7"/>
<line x1="331" y1="273" x2="328" y2="273" stroke="#111" stroke-width="0.7"/>
<line x1="278.4" y1="270.78" x2="280.6" y2="270.78" stroke="#111" stroke-width="0.7"/>
<line x1="331" y1="270.78" x2="328.8" y2="270.78" stroke="#111" stroke-width="0.7"/>
<line x1="278.4" y1="268.55" x2="280.6" y2="268.55" stroke="#111" stroke-width="0.7"/>
<line x1="331" y1="268.55" x2="328.8" y2="268.55" stroke="#111" stroke-width="0.7"/>
<line x1="278.4" y1="266.33" x2="280.6" y2="266.33" stroke="#111" stroke-width="0.7"/>
<line x1="331" y1="266.33" x2="328.8" y2="266.33" stroke="#111" stroke-width="0.7"/>
<line x1="278.4" y1="264.11" x2="280.6" y2="264.11" stroke="#111" stroke-width="0.7"/>
<line x1="331" y1="264.11" x2="328.8" y2="264.11" stroke="#111" stroke-width="0.7"/>
<line x1="278.4" y1="261.89" x2="281.4" y2="261.89" stroke="#111" stroke-width="0.7"/>
<line x1="331" y1="261.89" x2="328" y2="261.89" stroke="#111" stroke-width="0.7"/>
<line x1="278.4" y1="259.66" x2="280.6" y2="259.66" stroke="#111" stroke-width="0.7"/>
<line x1="331" y1="259.66" x2="328.8" y2="259.66" stroke="#111" stroke-width="0.7"/>
<line x1="278.4" y1="257.44" x2="280.6" y2="257.44" stroke="#111" stroke-width="0.7"/>
<line x1="331" y1="257.44" x2="328.8" y2="257.44" stroke="#111" stroke-width="0.7"/>
<line x1="278.4" y1="255.22" x2="280.6" y2="255.22" stroke="#111" stroke-width="0.7"/>
<line x1="331" y1="255.22" x2="328.8" y2="255.22" stroke="#111" stroke-width="0.7"/>
<line x1="278.4" y1="252.99" x2="280.6" y2="252.99" stroke="#111" stroke-width="0.7"/>
<line x1="331" y1="252.99" x2="328.8" y2="252.99" stroke="#111" stroke-width="0.7"/>
<line x1="278.4" y1="250.77" x2="281.4" y2="250.77" stroke="#111" stroke-width="0.7"/>
<line x1="331" y1="250.77" x2="328" y2="250.77" stroke="#111" stroke-width="0.7"/>
<line x1="278.4" y1="248.55" x2="280.6" y2="248.55" stroke="#111" stroke-width="0.7"/>
<line x1="331" y1="248.55" x2="328.8" y2="248.55" stroke="#111" stroke-width="0.7"/>
<line x1="278.4" y1="246.33" x2="280.6" y2="246.33" stroke="#111" stroke-width="0.7"/>
<line x1="331" y1="246.33" x2="328.8" y2="246.33" stroke="#111" stroke-width="0.7"/>
<line x1="278.4" y1="244.1" x2="280.6" y2="244.1" stroke="#111" stroke-width="0.7"/>
<line x1="331" y1="244.1" x2="328.8" y2="244.1" stroke="#111" stroke-width="0.7"/>
<line x1="278.4" y1="241.88" x2="280.6" y2="241.88" stroke="#111" stroke-width="0.7"/>
<line x1="331" y1="241.88" x2="328.8" y2="241.88" stroke="#111" stroke-width="0.7"/>
<line x1="278.4" y1="239.66" x2="281.4" y2="239.66" stroke="#111" stroke-width="0.7"/>
<line x1="331" y1="239.66" x2="328" y2="239.66" stroke="#111" stroke-width="0.7"/>
<line x1="278.4" y1="237.43" x2="280.6" y2="237.43" stroke="#111" stroke-width="0.7"/>
<line x1="331" y1="237.43" x2="328.8" y2="237.43" stroke="#111" stroke-width="0.7"/>
<line x1="278.4" y1="235.21" x2="280.6" y2="235.21" stroke="#111" stroke-width="0.7"/>
<line x1="331" y1="235.21" x2="328.8" y2="235.21" stroke="#111" stroke-width="0.7"/>
<line x1="278.4" y1="232.99" x2="280.6" y2="232.99" stroke="#111" stroke-width="0.7"/>
<line x1="331" y1="232.99" x2="328.8" y2="232.99" stroke="#111" stroke-width="0.7"/>
<rect x="278.4" y="234.1" width="52.6" height="38.9" fill="none" stroke="#1a1a1a" stroke-width="1.4"/>
<text x="276.8" y="275.7" font-size="7.5" text-anchor="end" font-weight="normal" font-style="normal" fill="#111" stroke="#222" stroke-width="0.15">311</text>
<text x="276.8" y="264.59" font-size="7.5" text-anchor="end" font-weight="normal" font-style="normal" fill="#111" stroke="#222" stroke-width="0.15">312</text>
<text x="276.8" y="253.47" font-size="7.5" text-anchor="end" font-weight="normal" font-style="normal" fill="#111" stroke="#222" stroke-width="0.15">313</text>
<text x="276.8" y="242.36" font-size="7.5" text-anchor="end" font-weight="normal" font-style="normal" fill="#111" stroke="#222" stroke-width="0.15">314</text>
<text x="278.4" y="281.7" font-size="7.5" text-anchor="middle" font-weight="normal" font-style="normal" fill="#111" stroke="#222" stroke-width="0.15">1.9</text>
<text x="288.9" y="281.7" font-size="7.5" text-anchor="middle" font-weight="normal" font-style="normal" fill="#111" stroke="#222" stroke-width="0.15">2</text>
<text x="299" y="281.7" font-size="7.5" text-anchor="middle" font-weight="normal" font-style="normal" fill="#111" stroke="#222" stroke-width="0.15">2.1</text>
<text x="308.6" y="281.7" font-size="7.5" text-anchor="middle" font-weight="normal" font-style="normal" fill="#111" stroke="#222" stroke-width="0.15">2.2</text>
<text x="318.7" y="281.7" font-size="7.5" text-anchor="middle" font-weight="normal" font-style="normal" fill="#111" stroke="#222" stroke-width="0.15">2.3</text>
<rect x="275.2" y="291" width="84.7" height="24.3" fill="#fff" stroke="#333" stroke-width="1.35" rx="0.6"/>
<line x1="283.7" y1="299.02" x2="309.2" y2="299.02" stroke="#e8585e" stroke-width="1.7"/>
<line x1="283.7" y1="307.04" x2="309.2" y2="307.04" stroke="#0e6c14" stroke-width="1.5" stroke-dasharray="5.5 1.8"/>
<text x="316.7" y="302.02" font-size="6.8" font-weight="bold" fill="#111" stroke="#111" stroke-width="0.2">&#969;<tspan font-size="4.4" dy="1.2">r</tspan></text>
<text x="325.7" y="302.02" font-size="6.7" font-weight="bold" font-style="italic" fill="#222" stroke="#222" stroke-width="0.12">(rad/s)</text>
<text x="316.7" y="310.04" font-size="6.8" font-weight="bold" fill="#111" stroke="#111" stroke-width="0.2">&#969;<tspan font-size="4.4" dy="1.2">e</tspan></text>
<text x="325.7" y="310.04" font-size="6.7" font-weight="bold" font-style="italic" fill="#222" stroke="#222" stroke-width="0.12">(rad/s)</text>
<line x1="138.5" y1="374.2" x2="138.5" y2="504.8" stroke="#f1f1f1" stroke-width="1"/>
<line x1="146.5" y1="374.2" x2="146.5" y2="504.8" stroke="#f1f1f1" stroke-width="1"/>
<line x1="154.5" y1="374.2" x2="154.5" y2="504.8" stroke="#f1f1f1" stroke-width="1"/>
<line x1="162.5" y1="374.2" x2="162.5" y2="504.8" stroke="#f1f1f1" stroke-width="1"/>
<line x1="179.5" y1="374.2" x2="179.5" y2="504.8" stroke="#f1f1f1" stroke-width="1"/>
<line x1="187.5" y1="374.2" x2="187.5" y2="504.8" stroke="#f1f1f1" stroke-width="1"/>
<line x1="195.5" y1="374.2" x2="195.5" y2="504.8" stroke="#f1f1f1" stroke-width="1"/>
<line x1="203.5" y1="374.2" x2="203.5" y2="504.8" stroke="#f1f1f1" stroke-width="1"/>
<line x1="220.5" y1="374.2" x2="220.5" y2="504.8" stroke="#f1f1f1" stroke-width="1"/>
<line x1="228.5" y1="374.2" x2="228.5" y2="504.8" stroke="#f1f1f1" stroke-width="1"/>
<line x1="236.5" y1="374.2" x2="236.5" y2="504.8" stroke="#f1f1f1" stroke-width="1"/>
<line x1="244.5" y1="374.2" x2="244.5" y2="504.8" stroke="#f1f1f1" stroke-width="1"/>
<line x1="261.5" y1="374.2" x2="261.5" y2="504.8" stroke="#f1f1f1" stroke-width="1"/>
<line x1="269.5" y1="374.2" x2="269.5" y2="504.8" stroke="#f1f1f1" stroke-width="1"/>
<line x1="277.5" y1="374.2" x2="277.5" y2="504.8" stroke="#f1f1f1" stroke-width="1"/>
<line x1="285.5" y1="374.2" x2="285.5" y2="504.8" stroke="#f1f1f1" stroke-width="1"/>
<line x1="130" y1="495.5" x2="294" y2="495.5" stroke="#f1f1f1" stroke-width="1"/>
<line x1="130" y1="476.5" x2="294" y2="476.5" stroke="#f1f1f1" stroke-width="1"/>
<line x1="130" y1="458.5" x2="294" y2="458.5" stroke="#f1f1f1" stroke-width="1"/>
<line x1="130" y1="439.5" x2="294" y2="439.5" stroke="#f1f1f1" stroke-width="1"/>
<line x1="130" y1="420.5" x2="294" y2="420.5" stroke="#f1f1f1" stroke-width="1"/>
<line x1="130" y1="402.5" x2="294" y2="402.5" stroke="#f1f1f1" stroke-width="1"/>
<line x1="130" y1="383.5" x2="294" y2="383.5" stroke="#f1f1f1" stroke-width="1"/>
<line x1="171.5" y1="374.2" x2="171.5" y2="504.8" stroke="#bcbcbc" stroke-width="1"/>
<line x1="212.5" y1="374.2" x2="212.5" y2="504.8" stroke="#bcbcbc" stroke-width="1"/>
<line x1="253.5" y1="374.2" x2="253.5" y2="504.8" stroke="#bcbcbc" stroke-width="1"/>
<line x1="130" y1="486.5" x2="294" y2="486.5" stroke="#bcbcbc" stroke-width="1"/>
<line x1="130" y1="467.5" x2="294" y2="467.5" stroke="#bcbcbc" stroke-width="1"/>
<line x1="130" y1="448.5" x2="294" y2="448.5" stroke="#bcbcbc" stroke-width="1"/>
<line x1="130" y1="430.5" x2="294" y2="430.5" stroke="#bcbcbc" stroke-width="1"/>
<line x1="130" y1="411.5" x2="294" y2="411.5" stroke="#bcbcbc" stroke-width="1"/>
<line x1="130" y1="392.5" x2="294" y2="392.5" stroke="#bcbcbc" stroke-width="1"/>
<polyline points="130,504.8 156.16,387.57 294,387.57" fill="none" stroke="#cc2426" stroke-width="1.7" stroke-linejoin="round"/>
<polyline points="130,504.8 156.16,387.57 294,387.57" fill="none" stroke="#901616" stroke-width="1.1" stroke-dasharray="5.2 1.6" transform="translate(-0.2,-0.3)" stroke-linejoin="round"/>
<line x1="130" y1="504.8" x2="130" y2="501.2" stroke="#444" stroke-width="0.8"/>
<line x1="130" y1="374.2" x2="130" y2="377.8" stroke="#444" stroke-width="0.8"/>
<line x1="138.2" y1="504.8" x2="138.2" y2="502.4" stroke="#444" stroke-width="0.8"/>
<line x1="138.2" y1="374.2" x2="138.2" y2="376.6" stroke="#444" stroke-width="0.8"/>
<line x1="146.4" y1="504.8" x2="146.4" y2="502.4" stroke="#444" stroke-width="0.8"/>
<line x1="146.4" y1="374.2" x2="146.4" y2="376.6" stroke="#444" stroke-width="0.8"/>
<line x1="154.6" y1="504.8" x2="154.6" y2="502.4" stroke="#444" stroke-width="0.8"/>
<line x1="154.6" y1="374.2" x2="154.6" y2="376.6" stroke="#444" stroke-width="0.8"/>
<line x1="162.8" y1="504.8" x2="162.8" y2="502.4" stroke="#444" stroke-width="0.8"/>
<line x1="162.8" y1="374.2" x2="162.8" y2="376.6" stroke="#444" stroke-width="0.8"/>
<line x1="171" y1="504.8" x2="171" y2="501.2" stroke="#444" stroke-width="0.8"/>
<line x1="171" y1="374.2" x2="171" y2="377.8" stroke="#444" stroke-width="0.8"/>
<line x1="179.2" y1="504.8" x2="179.2" y2="502.4" stroke="#444" stroke-width="0.8"/>
<line x1="179.2" y1="374.2" x2="179.2" y2="376.6" stroke="#444" stroke-width="0.8"/>
<line x1="187.4" y1="504.8" x2="187.4" y2="502.4" stroke="#444" stroke-width="0.8"/>
<line x1="187.4" y1="374.2" x2="187.4" y2="376.6" stroke="#444" stroke-width="0.8"/>
<line x1="195.6" y1="504.8" x2="195.6" y2="502.4" stroke="#444" stroke-width="0.8"/>
<line x1="195.6" y1="374.2" x2="195.6" y2="376.6" stroke="#444" stroke-width="0.8"/>
<line x1="203.8" y1="504.8" x2="203.8" y2="502.4" stroke="#444" stroke-width="0.8"/>
<line x1="203.8" y1="374.2" x2="203.8" y2="376.6" stroke="#444" stroke-width="0.8"/>
<line x1="212" y1="504.8" x2="212" y2="501.2" stroke="#444" stroke-width="0.8"/>
<line x1="212" y1="374.2" x2="212" y2="377.8" stroke="#444" stroke-width="0.8"/>
<line x1="220.2" y1="504.8" x2="220.2" y2="502.4" stroke="#444" stroke-width="0.8"/>
<line x1="220.2" y1="374.2" x2="220.2" y2="376.6" stroke="#444" stroke-width="0.8"/>
<line x1="228.4" y1="504.8" x2="228.4" y2="502.4" stroke="#444" stroke-width="0.8"/>
<line x1="228.4" y1="374.2" x2="228.4" y2="376.6" stroke="#444" stroke-width="0.8"/>
<line x1="236.6" y1="504.8" x2="236.6" y2="502.4" stroke="#444" stroke-width="0.8"/>
<line x1="236.6" y1="374.2" x2="236.6" y2="376.6" stroke="#444" stroke-width="0.8"/>
<line x1="244.8" y1="504.8" x2="244.8" y2="502.4" stroke="#444" stroke-width="0.8"/>
<line x1="244.8" y1="374.2" x2="244.8" y2="376.6" stroke="#444" stroke-width="0.8"/>
<line x1="253" y1="504.8" x2="253" y2="501.2" stroke="#444" stroke-width="0.8"/>
<line x1="253" y1="374.2" x2="253" y2="377.8" stroke="#444" stroke-width="0.8"/>
<line x1="261.2" y1="504.8" x2="261.2" y2="502.4" stroke="#444" stroke-width="0.8"/>
<line x1="261.2" y1="374.2" x2="261.2" y2="376.6" stroke="#444" stroke-width="0.8"/>
<line x1="269.4" y1="504.8" x2="269.4" y2="502.4" stroke="#444" stroke-width="0.8"/>
<line x1="269.4" y1="374.2" x2="269.4" y2="376.6" stroke="#444" stroke-width="0.8"/>
<line x1="277.6" y1="504.8" x2="277.6" y2="502.4" stroke="#444" stroke-width="0.8"/>
<line x1="277.6" y1="374.2" x2="277.6" y2="376.6" stroke="#444" stroke-width="0.8"/>
<line x1="285.8" y1="504.8" x2="285.8" y2="502.4" stroke="#444" stroke-width="0.8"/>
<line x1="285.8" y1="374.2" x2="285.8" y2="376.6" stroke="#444" stroke-width="0.8"/>
<line x1="294" y1="504.8" x2="294" y2="501.2" stroke="#444" stroke-width="0.8"/>
<line x1="294" y1="374.2" x2="294" y2="377.8" stroke="#444" stroke-width="0.8"/>
<line x1="130" y1="504.8" x2="134.2" y2="504.8" stroke="#444" stroke-width="0.9"/>
<line x1="294" y1="504.8" x2="289.8" y2="504.8" stroke="#444" stroke-width="0.9"/>
<line x1="130" y1="495.47" x2="132.4" y2="495.47" stroke="#444" stroke-width="0.9"/>
<line x1="294" y1="495.47" x2="291.6" y2="495.47" stroke="#444" stroke-width="0.9"/>
<line x1="130" y1="486.14" x2="134.2" y2="486.14" stroke="#444" stroke-width="0.9"/>
<line x1="294" y1="486.14" x2="289.8" y2="486.14" stroke="#444" stroke-width="0.9"/>
<line x1="130" y1="476.81" x2="132.4" y2="476.81" stroke="#444" stroke-width="0.9"/>
<line x1="294" y1="476.81" x2="291.6" y2="476.81" stroke="#444" stroke-width="0.9"/>
<line x1="130" y1="467.49" x2="134.2" y2="467.49" stroke="#444" stroke-width="0.9"/>
<line x1="294" y1="467.49" x2="289.8" y2="467.49" stroke="#444" stroke-width="0.9"/>
<line x1="130" y1="458.16" x2="132.4" y2="458.16" stroke="#444" stroke-width="0.9"/>
<line x1="294" y1="458.16" x2="291.6" y2="458.16" stroke="#444" stroke-width="0.9"/>
<line x1="130" y1="448.83" x2="134.2" y2="448.83" stroke="#444" stroke-width="0.9"/>
<line x1="294" y1="448.83" x2="289.8" y2="448.83" stroke="#444" stroke-width="0.9"/>
<line x1="130" y1="439.5" x2="132.4" y2="439.5" stroke="#444" stroke-width="0.9"/>
<line x1="294" y1="439.5" x2="291.6" y2="439.5" stroke="#444" stroke-width="0.9"/>
<line x1="130" y1="430.17" x2="134.2" y2="430.17" stroke="#444" stroke-width="0.9"/>
<line x1="294" y1="430.17" x2="289.8" y2="430.17" stroke="#444" stroke-width="0.9"/>
<line x1="130" y1="420.84" x2="132.4" y2="420.84" stroke="#444" stroke-width="0.9"/>
<line x1="294" y1="420.84" x2="291.6" y2="420.84" stroke="#444" stroke-width="0.9"/>
<line x1="130" y1="411.51" x2="134.2" y2="411.51" stroke="#444" stroke-width="0.9"/>
<line x1="294" y1="411.51" x2="289.8" y2="411.51" stroke="#444" stroke-width="0.9"/>
<line x1="130" y1="402.19" x2="132.4" y2="402.19" stroke="#444" stroke-width="0.9"/>
<line x1="294" y1="402.19" x2="291.6" y2="402.19" stroke="#444" stroke-width="0.9"/>
<line x1="130" y1="392.86" x2="134.2" y2="392.86" stroke="#444" stroke-width="0.9"/>
<line x1="294" y1="392.86" x2="289.8" y2="392.86" stroke="#444" stroke-width="0.9"/>
<line x1="130" y1="383.53" x2="132.4" y2="383.53" stroke="#444" stroke-width="0.9"/>
<line x1="294" y1="383.53" x2="291.6" y2="383.53" stroke="#444" stroke-width="0.9"/>
<line x1="130" y1="374.2" x2="134.2" y2="374.2" stroke="#444" stroke-width="0.9"/>
<line x1="294" y1="374.2" x2="289.8" y2="374.2" stroke="#444" stroke-width="0.9"/>
<rect x="130" y="374.2" width="164" height="130.6" fill="none" stroke="#000" stroke-width="1.9" rx="0.8"/>
<text x="127.4" y="508" font-size="9" text-anchor="end" font-weight="bold" font-style="normal" fill="#111" stroke="#111" stroke-width="0.25">0</text>
<text x="127.4" y="489.34" font-size="9" text-anchor="end" font-weight="bold" font-style="normal" fill="#111" stroke="#111" stroke-width="0.25">50</text>
<text x="127.4" y="470.69" font-size="9" text-anchor="end" font-weight="bold" font-style="normal" fill="#111" stroke="#111" stroke-width="0.25">100</text>
<text x="127.4" y="452.03" font-size="9" text-anchor="end" font-weight="bold" font-style="normal" fill="#111" stroke="#111" stroke-width="0.25">150</text>
<text x="127.4" y="433.37" font-size="9" text-anchor="end" font-weight="bold" font-style="normal" fill="#111" stroke="#111" stroke-width="0.25">200</text>
<text x="127.4" y="414.71" font-size="9" text-anchor="end" font-weight="bold" font-style="normal" fill="#111" stroke="#111" stroke-width="0.25">250</text>
<text x="127.4" y="396.06" font-size="9" text-anchor="end" font-weight="bold" font-style="normal" fill="#111" stroke="#111" stroke-width="0.25">300</text>
<text x="127.4" y="377.4" font-size="9" text-anchor="end" font-weight="bold" font-style="normal" fill="#111" stroke="#111" stroke-width="0.25">350</text>
<text x="130" y="516.3" font-size="9" text-anchor="middle" font-weight="bold" font-style="normal" fill="#111" stroke="#111" stroke-width="0.25">0</text>
<text x="171" y="516.3" font-size="9" text-anchor="middle" font-weight="bold" font-style="normal" fill="#111" stroke="#111" stroke-width="0.25">1</text>
<text x="212" y="516.3" font-size="9" text-anchor="middle" font-weight="bold" font-style="normal" fill="#111" stroke="#111" stroke-width="0.25">2</text>
<text x="253" y="516.3" font-size="9" text-anchor="middle" font-weight="bold" font-style="normal" fill="#111" stroke="#111" stroke-width="0.25">3</text>
<text x="294" y="516.3" font-size="9" text-anchor="middle" font-weight="bold" font-style="normal" fill="#111" stroke="#111" stroke-width="0.25">4</text>
<text x="207.5" y="529" font-size="9.5" text-anchor="middle" font-weight="bold" font-style="italic" fill="#111" stroke="#111" stroke-width="0.25">Time <tspan font-size="8.8" font-weight="normal" stroke="#111" stroke-width="0.3">(s)</tspan></text>
<text transform="translate(108,442.5) rotate(-90)" font-size="10" text-anchor="middle" font-weight="bold" font-style="italic" fill="#111" stroke="#111" stroke-width="0.2">Speed <tspan>(rad/s)</tspan></text>
<text x="199.5" y="546" font-size="9.6" text-anchor="middle" font-weight="bold" font-style="normal" fill="#111" stroke="#111" stroke-width="0.1">(e)</text>
<circle cx="211.4" cy="387.97" r="4.8" fill="none" stroke="#5b2d7d" stroke-width="1.1"/>
<line x1="207.22" y1="392.56" x2="197.75" y2="402.96" stroke="#6a4a7a" stroke-width="0.8"/>
<polygon points="192.7,408.5 195.75,401.14 199.75,404.77" fill="#8a0c98"/>
<rect x="171.7" y="411.5" width="52.5" height="38.6" fill="#fff"/>
<line x1="173.8" y1="411.5" x2="173.8" y2="450.1" stroke="#d8d8d8" stroke-width="0.5" stroke-dasharray="0.8 0.8"/>
<line x1="175.9" y1="411.5" x2="175.9" y2="450.1" stroke="#d8d8d8" stroke-width="0.5" stroke-dasharray="0.8 0.8"/>
<line x1="178" y1="411.5" x2="178" y2="450.1" stroke="#d8d8d8" stroke-width="0.5" stroke-dasharray="0.8 0.8"/>
<line x1="180.1" y1="411.5" x2="180.1" y2="450.1" stroke="#d8d8d8" stroke-width="0.5" stroke-dasharray="0.8 0.8"/>
<line x1="184.3" y1="411.5" x2="184.3" y2="450.1" stroke="#d8d8d8" stroke-width="0.5" stroke-dasharray="0.8 0.8"/>
<line x1="186.4" y1="411.5" x2="186.4" y2="450.1" stroke="#d8d8d8" stroke-width="0.5" stroke-dasharray="0.8 0.8"/>
<line x1="188.5" y1="411.5" x2="188.5" y2="450.1" stroke="#d8d8d8" stroke-width="0.5" stroke-dasharray="0.8 0.8"/>
<line x1="190.6" y1="411.5" x2="190.6" y2="450.1" stroke="#d8d8d8" stroke-width="0.5" stroke-dasharray="0.8 0.8"/>
<line x1="194.8" y1="411.5" x2="194.8" y2="450.1" stroke="#d8d8d8" stroke-width="0.5" stroke-dasharray="0.8 0.8"/>
<line x1="196.9" y1="411.5" x2="196.9" y2="450.1" stroke="#d8d8d8" stroke-width="0.5" stroke-dasharray="0.8 0.8"/>
<line x1="199" y1="411.5" x2="199" y2="450.1" stroke="#d8d8d8" stroke-width="0.5" stroke-dasharray="0.8 0.8"/>
<line x1="201.1" y1="411.5" x2="201.1" y2="450.1" stroke="#d8d8d8" stroke-width="0.5" stroke-dasharray="0.8 0.8"/>
<line x1="205.3" y1="411.5" x2="205.3" y2="450.1" stroke="#d8d8d8" stroke-width="0.5" stroke-dasharray="0.8 0.8"/>
<line x1="207.4" y1="411.5" x2="207.4" y2="450.1" stroke="#d8d8d8" stroke-width="0.5" stroke-dasharray="0.8 0.8"/>
<line x1="209.5" y1="411.5" x2="209.5" y2="450.1" stroke="#d8d8d8" stroke-width="0.5" stroke-dasharray="0.8 0.8"/>
<line x1="211.6" y1="411.5" x2="211.6" y2="450.1" stroke="#d8d8d8" stroke-width="0.5" stroke-dasharray="0.8 0.8"/>
<line x1="215.8" y1="411.5" x2="215.8" y2="450.1" stroke="#d8d8d8" stroke-width="0.5" stroke-dasharray="0.8 0.8"/>
<line x1="217.9" y1="411.5" x2="217.9" y2="450.1" stroke="#d8d8d8" stroke-width="0.5" stroke-dasharray="0.8 0.8"/>
<line x1="220" y1="411.5" x2="220" y2="450.1" stroke="#d8d8d8" stroke-width="0.5" stroke-dasharray="0.8 0.8"/>
<line x1="222.1" y1="411.5" x2="222.1" y2="450.1" stroke="#d8d8d8" stroke-width="0.5" stroke-dasharray="0.8 0.8"/>
<line x1="171.7" y1="447.89" x2="224.2" y2="447.89" stroke="#d8d8d8" stroke-width="0.5" stroke-dasharray="0.8 0.8"/>
<line x1="171.7" y1="445.69" x2="224.2" y2="445.69" stroke="#d8d8d8" stroke-width="0.5" stroke-dasharray="0.8 0.8"/>
<line x1="171.7" y1="443.48" x2="224.2" y2="443.48" stroke="#d8d8d8" stroke-width="0.5" stroke-dasharray="0.8 0.8"/>
<line x1="171.7" y1="441.28" x2="224.2" y2="441.28" stroke="#d8d8d8" stroke-width="0.5" stroke-dasharray="0.8 0.8"/>
<line x1="171.7" y1="439.07" x2="224.2" y2="439.07" stroke="#d8d8d8" stroke-width="0.5" stroke-dasharray="0.8 0.8"/>
<line x1="171.7" y1="436.87" x2="224.2" y2="436.87" stroke="#d8d8d8" stroke-width="0.5" stroke-dasharray="0.8 0.8"/>
<line x1="171.7" y1="434.66" x2="224.2" y2="434.66" stroke="#d8d8d8" stroke-width="0.5" stroke-dasharray="0.8 0.8"/>
<line x1="171.7" y1="432.45" x2="224.2" y2="432.45" stroke="#d8d8d8" stroke-width="0.5" stroke-dasharray="0.8 0.8"/>
<line x1="171.7" y1="430.25" x2="224.2" y2="430.25" stroke="#d8d8d8" stroke-width="0.5" stroke-dasharray="0.8 0.8"/>
<line x1="171.7" y1="428.04" x2="224.2" y2="428.04" stroke="#d8d8d8" stroke-width="0.5" stroke-dasharray="0.8 0.8"/>
<line x1="171.7" y1="425.84" x2="224.2" y2="425.84" stroke="#d8d8d8" stroke-width="0.5" stroke-dasharray="0.8 0.8"/>
<line x1="171.7" y1="423.63" x2="224.2" y2="423.63" stroke="#d8d8d8" stroke-width="0.5" stroke-dasharray="0.8 0.8"/>
<line x1="171.7" y1="421.43" x2="224.2" y2="421.43" stroke="#d8d8d8" stroke-width="0.5" stroke-dasharray="0.8 0.8"/>
<line x1="171.7" y1="419.22" x2="224.2" y2="419.22" stroke="#d8d8d8" stroke-width="0.5" stroke-dasharray="0.8 0.8"/>
<line x1="171.7" y1="417.01" x2="224.2" y2="417.01" stroke="#d8d8d8" stroke-width="0.5" stroke-dasharray="0.8 0.8"/>
<line x1="171.7" y1="414.81" x2="224.2" y2="414.81" stroke="#d8d8d8" stroke-width="0.5" stroke-dasharray="0.8 0.8"/>
<line x1="171.7" y1="412.6" x2="224.2" y2="412.6" stroke="#d8d8d8" stroke-width="0.5" stroke-dasharray="0.8 0.8"/>
<line x1="182.2" y1="411.5" x2="182.2" y2="450.1" stroke="#9a9a9a" stroke-width="0.6"/>
<line x1="192.7" y1="411.5" x2="192.7" y2="450.1" stroke="#9a9a9a" stroke-width="0.6"/>
<line x1="203.2" y1="411.5" x2="203.2" y2="450.1" stroke="#9a9a9a" stroke-width="0.6"/>
<line x1="213.7" y1="411.5" x2="213.7" y2="450.1" stroke="#9a9a9a" stroke-width="0.6"/>
<line x1="171.7" y1="439.07" x2="224.2" y2="439.07" stroke="#9a9a9a" stroke-width="0.6"/>
<line x1="171.7" y1="428.04" x2="224.2" y2="428.04" stroke="#9a9a9a" stroke-width="0.6"/>
<clipPath id="c1274"><rect x="171.7" y="411.5" width="52.5" height="38.6"/></clipPath><g clip-path="url(#c1274)">
<line x1="171.7" y1="430.69" x2="224.2" y2="430.69" stroke="#0e6c14" stroke-width="1.4" stroke-dasharray="5.8 1.8"/>
<polyline points="166.45,428.87 181.89,428.87 182.3,433.28 182.72,431.9 183.56,429.42 185.35,428.87 245.2,428.87" fill="none" stroke="#e3242b" stroke-width="1.5" stroke-linejoin="round"/>
</g>
<line x1="171.7" y1="411.5" x2="171.7" y2="414.5" stroke="#111" stroke-width="0.7"/>
<line x1="171.7" y1="450.1" x2="171.7" y2="447.1" stroke="#111" stroke-width="0.7"/>
<line x1="173.8" y1="411.5" x2="173.8" y2="413.7" stroke="#111" stroke-width="0.7"/>
<line x1="173.8" y1="450.1" x2="173.8" y2="447.9" stroke="#111" stroke-width="0.7"/>
<line x1="175.9" y1="411.5" x2="175.9" y2="413.7" stroke="#111" stroke-width="0.7"/>
<line x1="175.9" y1="450.1" x2="175.9" y2="447.9" stroke="#111" stroke-width="0.7"/>
<line x1="178" y1="411.5" x2="178" y2="413.7" stroke="#111" stroke-width="0.7"/>
<line x1="178" y1="450.1" x2="178" y2="447.9" stroke="#111" stroke-width="0.7"/>
<line x1="180.1" y1="411.5" x2="180.1" y2="413.7" stroke="#111" stroke-width="0.7"/>
<line x1="180.1" y1="450.1" x2="180.1" y2="447.9" stroke="#111" stroke-width="0.7"/>
<line x1="182.2" y1="411.5" x2="182.2" y2="414.5" stroke="#111" stroke-width="0.7"/>
<line x1="182.2" y1="450.1" x2="182.2" y2="447.1" stroke="#111" stroke-width="0.7"/>
<line x1="184.3" y1="411.5" x2="184.3" y2="413.7" stroke="#111" stroke-width="0.7"/>
<line x1="184.3" y1="450.1" x2="184.3" y2="447.9" stroke="#111" stroke-width="0.7"/>
<line x1="186.4" y1="411.5" x2="186.4" y2="413.7" stroke="#111" stroke-width="0.7"/>
<line x1="186.4" y1="450.1" x2="186.4" y2="447.9" stroke="#111" stroke-width="0.7"/>
<line x1="188.5" y1="411.5" x2="188.5" y2="413.7" stroke="#111" stroke-width="0.7"/>
<line x1="188.5" y1="450.1" x2="188.5" y2="447.9" stroke="#111" stroke-width="0.7"/>
<line x1="190.6" y1="411.5" x2="190.6" y2="413.7" stroke="#111" stroke-width="0.7"/>
<line x1="190.6" y1="450.1" x2="190.6" y2="447.9" stroke="#111" stroke-width="0.7"/>
<line x1="192.7" y1="411.5" x2="192.7" y2="414.5" stroke="#111" stroke-width="0.7"/>
<line x1="192.7" y1="450.1" x2="192.7" y2="447.1" stroke="#111" stroke-width="0.7"/>
<line x1="194.8" y1="411.5" x2="194.8" y2="413.7" stroke="#111" stroke-width="0.7"/>
<line x1="194.8" y1="450.1" x2="194.8" y2="447.9" stroke="#111" stroke-width="0.7"/>
<line x1="196.9" y1="411.5" x2="196.9" y2="413.7" stroke="#111" stroke-width="0.7"/>
<line x1="196.9" y1="450.1" x2="196.9" y2="447.9" stroke="#111" stroke-width="0.7"/>
<line x1="199" y1="411.5" x2="199" y2="413.7" stroke="#111" stroke-width="0.7"/>
<line x1="199" y1="450.1" x2="199" y2="447.9" stroke="#111" stroke-width="0.7"/>
<line x1="201.1" y1="411.5" x2="201.1" y2="413.7" stroke="#111" stroke-width="0.7"/>
<line x1="201.1" y1="450.1" x2="201.1" y2="447.9" stroke="#111" stroke-width="0.7"/>
<line x1="203.2" y1="411.5" x2="203.2" y2="414.5" stroke="#111" stroke-width="0.7"/>
<line x1="203.2" y1="450.1" x2="203.2" y2="447.1" stroke="#111" stroke-width="0.7"/>
<line x1="205.3" y1="411.5" x2="205.3" y2="413.7" stroke="#111" stroke-width="0.7"/>
<line x1="205.3" y1="450.1" x2="205.3" y2="447.9" stroke="#111" stroke-width="0.7"/>
<line x1="207.4" y1="411.5" x2="207.4" y2="413.7" stroke="#111" stroke-width="0.7"/>
<line x1="207.4" y1="450.1" x2="207.4" y2="447.9" stroke="#111" stroke-width="0.7"/>
<line x1="209.5" y1="411.5" x2="209.5" y2="413.7" stroke="#111" stroke-width="0.7"/>
<line x1="209.5" y1="450.1" x2="209.5" y2="447.9" stroke="#111" stroke-width="0.7"/>
<line x1="211.6" y1="411.5" x2="211.6" y2="413.7" stroke="#111" stroke-width="0.7"/>
<line x1="211.6" y1="450.1" x2="211.6" y2="447.9" stroke="#111" stroke-width="0.7"/>
<line x1="213.7" y1="411.5" x2="213.7" y2="414.5" stroke="#111" stroke-width="0.7"/>
<line x1="213.7" y1="450.1" x2="213.7" y2="447.1" stroke="#111" stroke-width="0.7"/>
<line x1="215.8" y1="411.5" x2="215.8" y2="413.7" stroke="#111" stroke-width="0.7"/>
<line x1="215.8" y1="450.1" x2="215.8" y2="447.9" stroke="#111" stroke-width="0.7"/>
<line x1="217.9" y1="411.5" x2="217.9" y2="413.7" stroke="#111" stroke-width="0.7"/>
<line x1="217.9" y1="450.1" x2="217.9" y2="447.9" stroke="#111" stroke-width="0.7"/>
<line x1="220" y1="411.5" x2="220" y2="413.7" stroke="#111" stroke-width="0.7"/>
<line x1="220" y1="450.1" x2="220" y2="447.9" stroke="#111" stroke-width="0.7"/>
<line x1="222.1" y1="411.5" x2="222.1" y2="413.7" stroke="#111" stroke-width="0.7"/>
<line x1="222.1" y1="450.1" x2="222.1" y2="447.9" stroke="#111" stroke-width="0.7"/>
<line x1="224.2" y1="411.5" x2="224.2" y2="414.5" stroke="#111" stroke-width="0.7"/>
<line x1="224.2" y1="450.1" x2="224.2" y2="447.1" stroke="#111" stroke-width="0.7"/>
<line x1="171.7" y1="450.1" x2="174.7" y2="450.1" stroke="#111" stroke-width="0.7"/>
<line x1="224.2" y1="450.1" x2="221.2" y2="450.1" stroke="#111" stroke-width="0.7"/>
<line x1="171.7" y1="447.89" x2="173.9" y2="447.89" stroke="#111" stroke-width="0.7"/>
<line x1="224.2" y1="447.89" x2="222" y2="447.89" stroke="#111" stroke-width="0.7"/>
<line x1="171.7" y1="445.69" x2="173.9" y2="445.69" stroke="#111" stroke-width="0.7"/>
<line x1="224.2" y1="445.69" x2="222" y2="445.69" stroke="#111" stroke-width="0.7"/>
<line x1="171.7" y1="443.48" x2="173.9" y2="443.48" stroke="#111" stroke-width="0.7"/>
<line x1="224.2" y1="443.48" x2="222" y2="443.48" stroke="#111" stroke-width="0.7"/>
<line x1="171.7" y1="441.28" x2="173.9" y2="441.28" stroke="#111" stroke-width="0.7"/>
<line x1="224.2" y1="441.28" x2="222" y2="441.28" stroke="#111" stroke-width="0.7"/>
<line x1="171.7" y1="439.07" x2="174.7" y2="439.07" stroke="#111" stroke-width="0.7"/>
<line x1="224.2" y1="439.07" x2="221.2" y2="439.07" stroke="#111" stroke-width="0.7"/>
<line x1="171.7" y1="436.87" x2="173.9" y2="436.87" stroke="#111" stroke-width="0.7"/>
<line x1="224.2" y1="436.87" x2="222" y2="436.87" stroke="#111" stroke-width="0.7"/>
<line x1="171.7" y1="434.66" x2="173.9" y2="434.66" stroke="#111" stroke-width="0.7"/>
<line x1="224.2" y1="434.66" x2="222" y2="434.66" stroke="#111" stroke-width="0.7"/>
<line x1="171.7" y1="432.45" x2="173.9" y2="432.45" stroke="#111" stroke-width="0.7"/>
<line x1="224.2" y1="432.45" x2="222" y2="432.45" stroke="#111" stroke-width="0.7"/>
<line x1="171.7" y1="430.25" x2="173.9" y2="430.25" stroke="#111" stroke-width="0.7"/>
<line x1="224.2" y1="430.25" x2="222" y2="430.25" stroke="#111" stroke-width="0.7"/>
<line x1="171.7" y1="428.04" x2="174.7" y2="428.04" stroke="#111" stroke-width="0.7"/>
<line x1="224.2" y1="428.04" x2="221.2" y2="428.04" stroke="#111" stroke-width="0.7"/>
<line x1="171.7" y1="425.84" x2="173.9" y2="425.84" stroke="#111" stroke-width="0.7"/>
<line x1="224.2" y1="425.84" x2="222" y2="425.84" stroke="#111" stroke-width="0.7"/>
<line x1="171.7" y1="423.63" x2="173.9" y2="423.63" stroke="#111" stroke-width="0.7"/>
<line x1="224.2" y1="423.63" x2="222" y2="423.63" stroke="#111" stroke-width="0.7"/>
<line x1="171.7" y1="421.43" x2="173.9" y2="421.43" stroke="#111" stroke-width="0.7"/>
<line x1="224.2" y1="421.43" x2="222" y2="421.43" stroke="#111" stroke-width="0.7"/>
<line x1="171.7" y1="419.22" x2="173.9" y2="419.22" stroke="#111" stroke-width="0.7"/>
<line x1="224.2" y1="419.22" x2="222" y2="419.22" stroke="#111" stroke-width="0.7"/>
<line x1="171.7" y1="417.01" x2="174.7" y2="417.01" stroke="#111" stroke-width="0.7"/>
<line x1="224.2" y1="417.01" x2="221.2" y2="417.01" stroke="#111" stroke-width="0.7"/>
<line x1="171.7" y1="414.81" x2="173.9" y2="414.81" stroke="#111" stroke-width="0.7"/>
<line x1="224.2" y1="414.81" x2="222" y2="414.81" stroke="#111" stroke-width="0.7"/>
<line x1="171.7" y1="412.6" x2="173.9" y2="412.6" stroke="#111" stroke-width="0.7"/>
<line x1="224.2" y1="412.6" x2="222" y2="412.6" stroke="#111" stroke-width="0.7"/>
<rect x="171.7" y="411.5" width="52.5" height="38.6" fill="none" stroke="#1a1a1a" stroke-width="1.4"/>
<text x="170.1" y="452.8" font-size="7.5" text-anchor="end" font-weight="normal" font-style="normal" fill="#111" stroke="#222" stroke-width="0.15">313.8</text>
<text x="170.1" y="441.77" font-size="7.5" text-anchor="end" font-weight="normal" font-style="normal" fill="#111" stroke="#222" stroke-width="0.15">314</text>
<text x="170.1" y="430.74" font-size="7.5" text-anchor="end" font-weight="normal" font-style="normal" fill="#111" stroke="#222" stroke-width="0.15">314.2</text>
<text x="170.1" y="419.71" font-size="7.5" text-anchor="end" font-weight="normal" font-style="normal" fill="#111" stroke="#222" stroke-width="0.15">314.4</text>
<text x="171.7" y="458.8" font-size="7.5" text-anchor="middle" font-weight="normal" font-style="normal" fill="#111" stroke="#222" stroke-width="0.15">1.9</text>
<text x="182.2" y="458.8" font-size="7.5" text-anchor="middle" font-weight="normal" font-style="normal" fill="#111" stroke="#222" stroke-width="0.15">2</text>
<text x="192.3" y="458.8" font-size="7.5" text-anchor="middle" font-weight="normal" font-style="normal" fill="#111" stroke="#222" stroke-width="0.15">2.1</text>
<text x="201.9" y="458.8" font-size="7.5" text-anchor="middle" font-weight="normal" font-style="normal" fill="#111" stroke="#222" stroke-width="0.15">2.2</text>
<text x="212" y="458.8" font-size="7.5" text-anchor="middle" font-weight="normal" font-style="normal" fill="#111" stroke="#222" stroke-width="0.15">2.3</text>
<rect x="168.5" y="472.2" width="86.4" height="25.1" fill="#fff" stroke="#333" stroke-width="1.35" rx="0.6"/>
<line x1="177" y1="480.48" x2="202.5" y2="480.48" stroke="#e8585e" stroke-width="1.7"/>
<line x1="177" y1="488.77" x2="202.5" y2="488.77" stroke="#0e6c14" stroke-width="1.5" stroke-dasharray="5.5 1.8"/>
<text x="210" y="483.48" font-size="6.8" font-weight="bold" fill="#111" stroke="#111" stroke-width="0.2">&#969;<tspan font-size="4.4" dy="1.2">r</tspan></text>
<text x="219" y="483.48" font-size="6.7" font-weight="bold" font-style="italic" fill="#222" stroke="#222" stroke-width="0.12">(rad/s)</text>
<text x="210" y="491.77" font-size="6.8" font-weight="bold" fill="#111" stroke="#111" stroke-width="0.2">&#969;<tspan font-size="4.4" dy="1.2">e</tspan></text>
<text x="219" y="491.77" font-size="6.7" font-weight="bold" font-style="italic" fill="#222" stroke="#222" stroke-width="0.12">(rad/s)</text>
</svg>
</body></html>
